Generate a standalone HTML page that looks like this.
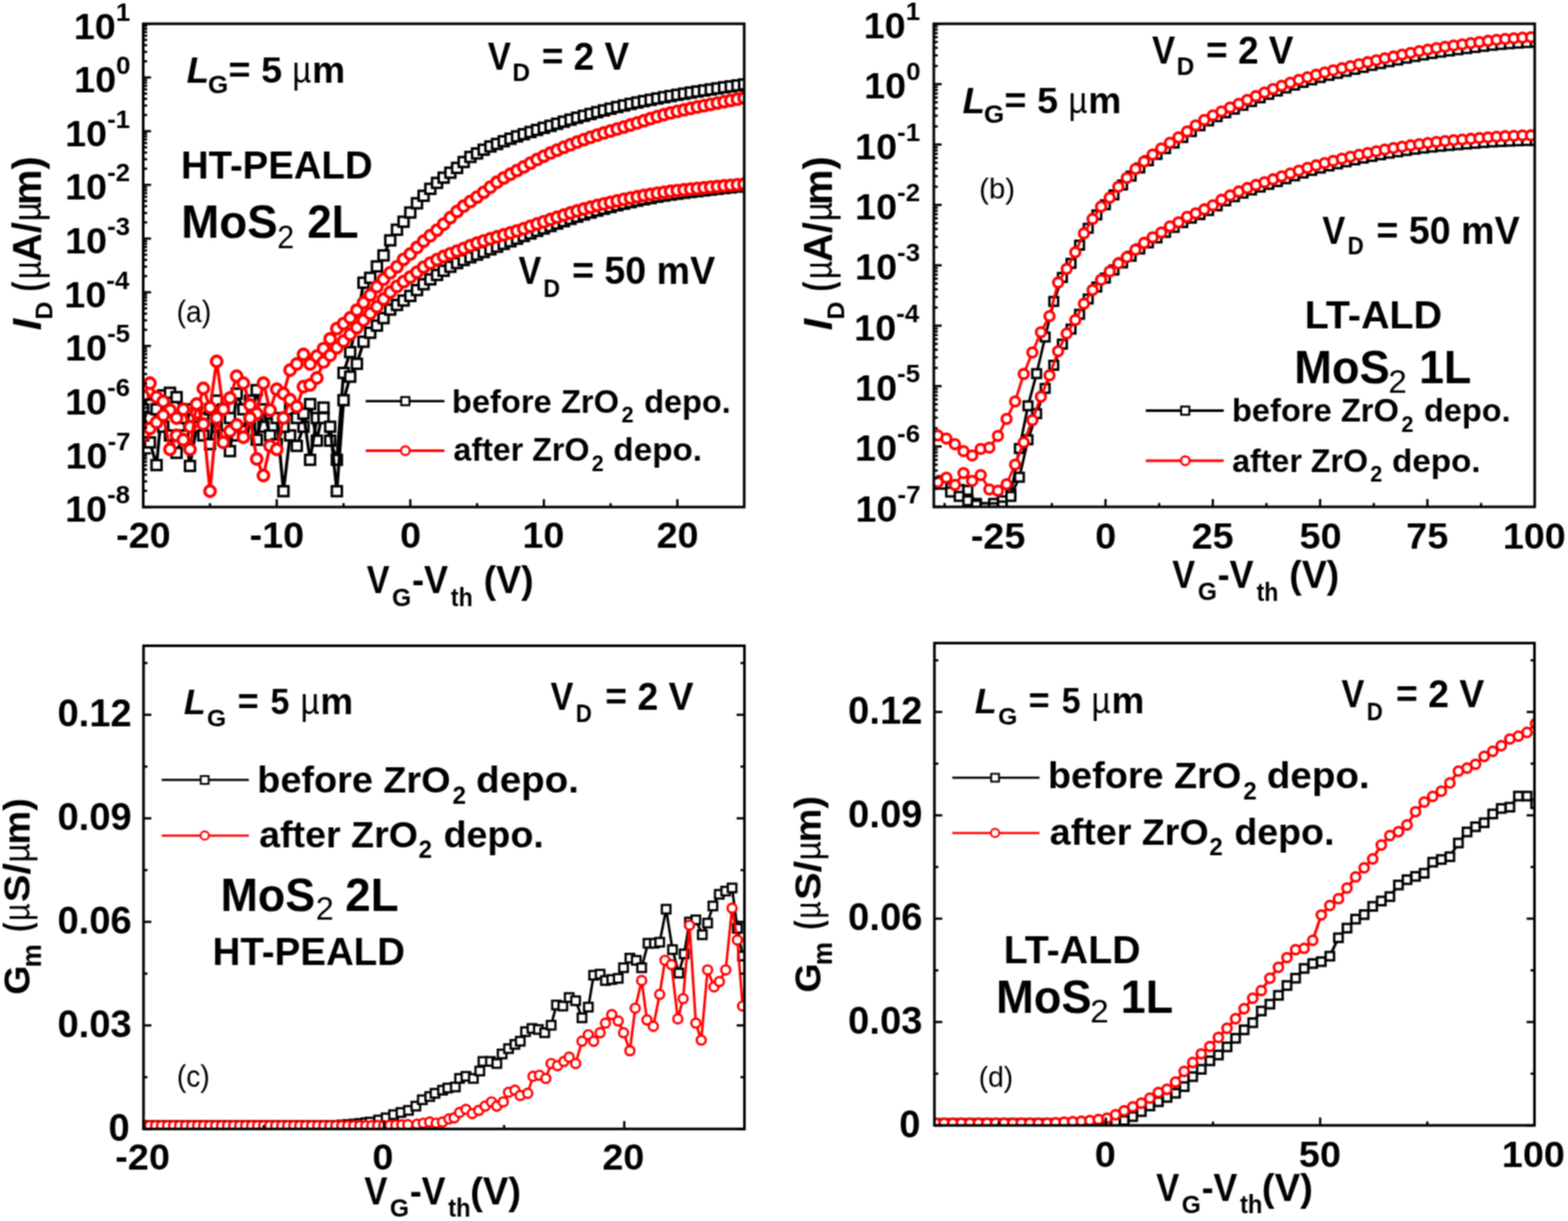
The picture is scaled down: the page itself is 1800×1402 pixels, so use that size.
<!DOCTYPE html><html><head><meta charset="utf-8"><title>Figure</title><style>html,body{margin:0;padding:0;background:#fff;}svg{display:block;}</style></head><body>
<svg width="1800" height="1402" viewBox="0 0 1800 1402" font-family='"Liberation Sans", Arial, sans-serif'>
<defs><filter id="bl" x="0" y="0" width="1800" height="1402" filterUnits="userSpaceOnUse" color-interpolation-filters="sRGB"><feConvolveMatrix order="3" kernelMatrix="1 2 1 2 4 2 1 2 1" divisor="16" edgeMode="duplicate"/></filter></defs>
<g filter="url(#bl)">
<rect width="1800" height="1402" fill="#fff"/>
<defs><clipPath id="ca"><rect x="164.40" y="27.30" width="689.90" height="554.90"/></clipPath><clipPath id="cb"><rect x="1072.00" y="27.30" width="689.80" height="554.70"/></clipPath><clipPath id="cc"><rect x="164.80" y="741.50" width="689.80" height="554.80"/></clipPath><clipPath id="cd"><rect x="1072.70" y="738.40" width="688.80" height="553.80"/></clipPath></defs>
<g clip-path="url(#ca)">
<path d="M164.4 470.0L172.1 508.0L179.7 534.0L187.4 454.0L195.1 451.0L202.7 456.0L210.4 480.0L218.1 535.0L225.7 490.0L233.4 480.0L241.1 470.0L248.7 490.0L256.4 500.0L264.0 518.0L271.7 452.0L279.4 470.0L287.0 485.0L294.7 448.0L302.4 490.0L310.0 475.0L317.7 480.0L325.4 564.0L333.0 500.0L340.7 512.0L348.4 490.0L356.0 464.0L363.7 506.0L371.4 468.0L379.0 506.0L386.7 528.0L394.4 428.2L402.0 404.3L409.7 369.7L417.3 324.6L425.0 319.0L432.7 305.9L440.3 293.3L448.0 276.0L455.7 263.8L463.3 254.6L471.0 244.0L478.7 233.4L486.3 224.8L494.0 216.8L501.7 210.0L509.3 204.0L517.0 198.3L524.7 192.8L532.3 186.0L540.0 180.2L547.6 176.2L555.3 171.9L563.0 168.2L570.6 165.3L578.3 162.2L586.0 159.3L593.6 156.6L601.3 154.1L609.0 151.6L616.6 149.2L624.3 146.8L632.0 144.5L639.6 142.1L647.3 139.7L655.0 137.4L662.6 135.2L670.3 133.0L678.0 130.9L685.6 128.8L693.3 126.8L700.9 124.8L708.6 122.9L716.3 121.1L723.9 119.3L731.6 117.7L739.3 116.1L746.9 114.6L754.6 113.1L762.3 111.6L769.9 110.3L777.6 108.9L785.3 107.6L792.9 106.3L800.6 105.1L808.3 103.9L815.9 102.7L823.6 101.5L831.3 100.3L838.9 99.2L846.6 98.1L854.2 97.0" fill="none" stroke="#000000" stroke-width="3.5" stroke-linejoin="round"/>
<g fill="#fff" stroke="#000000" stroke-width="2.9">
<rect x="158.7" y="464.3" width="11.4" height="11.4"/>
<rect x="166.4" y="502.3" width="11.4" height="11.4"/>
<rect x="174.0" y="528.3" width="11.4" height="11.4"/>
<rect x="181.7" y="448.3" width="11.4" height="11.4"/>
<rect x="189.4" y="445.3" width="11.4" height="11.4"/>
<rect x="197.0" y="450.3" width="11.4" height="11.4"/>
<rect x="204.7" y="474.3" width="11.4" height="11.4"/>
<rect x="212.4" y="529.3" width="11.4" height="11.4"/>
<rect x="220.0" y="484.3" width="11.4" height="11.4"/>
<rect x="227.7" y="474.3" width="11.4" height="11.4"/>
<rect x="235.4" y="464.3" width="11.4" height="11.4"/>
<rect x="243.0" y="484.3" width="11.4" height="11.4"/>
<rect x="250.7" y="494.3" width="11.4" height="11.4"/>
<rect x="258.3" y="512.3" width="11.4" height="11.4"/>
<rect x="266.0" y="446.3" width="11.4" height="11.4"/>
<rect x="273.7" y="464.3" width="11.4" height="11.4"/>
<rect x="281.3" y="479.3" width="11.4" height="11.4"/>
<rect x="289.0" y="442.3" width="11.4" height="11.4"/>
<rect x="296.7" y="484.3" width="11.4" height="11.4"/>
<rect x="304.3" y="469.3" width="11.4" height="11.4"/>
<rect x="312.0" y="474.3" width="11.4" height="11.4"/>
<rect x="319.7" y="558.3" width="11.4" height="11.4"/>
<rect x="327.3" y="494.3" width="11.4" height="11.4"/>
<rect x="335.0" y="506.3" width="11.4" height="11.4"/>
<rect x="342.7" y="484.3" width="11.4" height="11.4"/>
<rect x="350.3" y="458.3" width="11.4" height="11.4"/>
<rect x="358.0" y="500.3" width="11.4" height="11.4"/>
<rect x="365.7" y="462.3" width="11.4" height="11.4"/>
<rect x="373.3" y="500.3" width="11.4" height="11.4"/>
<rect x="381.0" y="522.3" width="11.4" height="11.4"/>
<rect x="388.7" y="422.5" width="11.4" height="11.4"/>
<rect x="396.3" y="398.6" width="11.4" height="11.4"/>
<rect x="404.0" y="364.0" width="11.4" height="11.4"/>
<rect x="411.6" y="318.9" width="11.4" height="11.4"/>
<rect x="419.3" y="313.3" width="11.4" height="11.4"/>
<rect x="427.0" y="300.2" width="11.4" height="11.4"/>
<rect x="434.6" y="287.6" width="11.4" height="11.4"/>
<rect x="442.3" y="270.3" width="11.4" height="11.4"/>
<rect x="450.0" y="258.1" width="11.4" height="11.4"/>
<rect x="457.6" y="248.9" width="11.4" height="11.4"/>
<rect x="465.3" y="238.3" width="11.4" height="11.4"/>
<rect x="473.0" y="227.7" width="11.4" height="11.4"/>
<rect x="480.6" y="219.1" width="11.4" height="11.4"/>
<rect x="488.3" y="211.1" width="11.4" height="11.4"/>
<rect x="496.0" y="204.3" width="11.4" height="11.4"/>
<rect x="503.6" y="198.3" width="11.4" height="11.4"/>
<rect x="511.3" y="192.6" width="11.4" height="11.4"/>
<rect x="519.0" y="187.1" width="11.4" height="11.4"/>
<rect x="526.6" y="180.3" width="11.4" height="11.4"/>
<rect x="534.3" y="174.5" width="11.4" height="11.4"/>
<rect x="541.9" y="170.5" width="11.4" height="11.4"/>
<rect x="549.6" y="166.2" width="11.4" height="11.4"/>
<rect x="557.3" y="162.5" width="11.4" height="11.4"/>
<rect x="564.9" y="159.6" width="11.4" height="11.4"/>
<rect x="572.6" y="156.5" width="11.4" height="11.4"/>
<rect x="580.3" y="153.6" width="11.4" height="11.4"/>
<rect x="587.9" y="150.9" width="11.4" height="11.4"/>
<rect x="595.6" y="148.4" width="11.4" height="11.4"/>
<rect x="603.3" y="145.9" width="11.4" height="11.4"/>
<rect x="610.9" y="143.5" width="11.4" height="11.4"/>
<rect x="618.6" y="141.1" width="11.4" height="11.4"/>
<rect x="626.3" y="138.8" width="11.4" height="11.4"/>
<rect x="633.9" y="136.4" width="11.4" height="11.4"/>
<rect x="641.6" y="134.0" width="11.4" height="11.4"/>
<rect x="649.3" y="131.7" width="11.4" height="11.4"/>
<rect x="656.9" y="129.5" width="11.4" height="11.4"/>
<rect x="664.6" y="127.3" width="11.4" height="11.4"/>
<rect x="672.3" y="125.2" width="11.4" height="11.4"/>
<rect x="679.9" y="123.1" width="11.4" height="11.4"/>
<rect x="687.6" y="121.1" width="11.4" height="11.4"/>
<rect x="695.2" y="119.1" width="11.4" height="11.4"/>
<rect x="702.9" y="117.2" width="11.4" height="11.4"/>
<rect x="710.6" y="115.4" width="11.4" height="11.4"/>
<rect x="718.2" y="113.6" width="11.4" height="11.4"/>
<rect x="725.9" y="112.0" width="11.4" height="11.4"/>
<rect x="733.6" y="110.4" width="11.4" height="11.4"/>
<rect x="741.2" y="108.9" width="11.4" height="11.4"/>
<rect x="748.9" y="107.4" width="11.4" height="11.4"/>
<rect x="756.6" y="105.9" width="11.4" height="11.4"/>
<rect x="764.2" y="104.6" width="11.4" height="11.4"/>
<rect x="771.9" y="103.2" width="11.4" height="11.4"/>
<rect x="779.6" y="101.9" width="11.4" height="11.4"/>
<rect x="787.2" y="100.6" width="11.4" height="11.4"/>
<rect x="794.9" y="99.4" width="11.4" height="11.4"/>
<rect x="802.6" y="98.2" width="11.4" height="11.4"/>
<rect x="810.2" y="97.0" width="11.4" height="11.4"/>
<rect x="817.9" y="95.8" width="11.4" height="11.4"/>
<rect x="825.6" y="94.6" width="11.4" height="11.4"/>
<rect x="833.2" y="93.5" width="11.4" height="11.4"/>
<rect x="840.9" y="92.4" width="11.4" height="11.4"/>
<rect x="848.5" y="91.3" width="11.4" height="11.4"/>
</g>
<path d="M164.4 500.0L172.1 480.0L179.7 470.0L187.4 490.0L195.1 500.0L202.7 520.0L210.4 500.0L218.1 470.0L225.7 470.0L233.4 500.0L241.1 510.0L248.7 460.0L256.4 470.0L264.0 480.0L271.7 500.0L279.4 495.0L287.0 460.0L294.7 505.0L302.4 470.0L310.0 500.0L317.7 510.0L325.4 490.0L333.0 470.0L340.7 480.0L348.4 475.0L356.0 528.0L363.7 480.0L371.4 480.0L379.0 490.0L386.7 564.0L394.4 459.5L402.0 432.5L409.7 417.7L417.3 392.4L425.0 382.1L432.7 373.9L440.3 365.3L448.0 355.5L455.7 350.2L463.3 345.1L471.0 339.8L478.7 333.1L486.3 326.4L494.0 320.8L501.7 315.7L509.3 310.9L517.0 306.3L524.7 302.1L532.3 298.6L540.0 295.4L547.6 292.4L555.3 289.4L563.0 286.3L570.6 283.3L578.3 280.1L586.0 277.1L593.6 274.1L601.3 271.0L609.0 268.1L616.6 265.1L624.3 262.3L632.0 259.5L639.6 256.7L647.3 254.0L655.0 251.3L662.6 248.8L670.3 246.3L678.0 244.1L685.6 241.8L693.3 239.7L700.9 237.7L708.6 235.7L716.3 233.9L723.9 232.1L731.6 230.4L739.3 228.8L746.9 227.4L754.6 225.9L762.3 224.6L769.9 223.4L777.6 222.4L785.3 221.3L792.9 220.4L800.6 219.5L808.3 218.6L815.9 217.7L823.6 216.8L831.3 215.9L838.9 215.1L846.6 214.3L854.2 213.5" fill="none" stroke="#000000" stroke-width="3.5" stroke-linejoin="round"/>
<g fill="#fff" stroke="#000000" stroke-width="2.9">
<rect x="158.7" y="494.3" width="11.4" height="11.4"/>
<rect x="166.4" y="474.3" width="11.4" height="11.4"/>
<rect x="174.0" y="464.3" width="11.4" height="11.4"/>
<rect x="181.7" y="484.3" width="11.4" height="11.4"/>
<rect x="189.4" y="494.3" width="11.4" height="11.4"/>
<rect x="197.0" y="514.3" width="11.4" height="11.4"/>
<rect x="204.7" y="494.3" width="11.4" height="11.4"/>
<rect x="212.4" y="464.3" width="11.4" height="11.4"/>
<rect x="220.0" y="464.3" width="11.4" height="11.4"/>
<rect x="227.7" y="494.3" width="11.4" height="11.4"/>
<rect x="235.4" y="504.3" width="11.4" height="11.4"/>
<rect x="243.0" y="454.3" width="11.4" height="11.4"/>
<rect x="250.7" y="464.3" width="11.4" height="11.4"/>
<rect x="258.3" y="474.3" width="11.4" height="11.4"/>
<rect x="266.0" y="494.3" width="11.4" height="11.4"/>
<rect x="273.7" y="489.3" width="11.4" height="11.4"/>
<rect x="281.3" y="454.3" width="11.4" height="11.4"/>
<rect x="289.0" y="499.3" width="11.4" height="11.4"/>
<rect x="296.7" y="464.3" width="11.4" height="11.4"/>
<rect x="304.3" y="494.3" width="11.4" height="11.4"/>
<rect x="312.0" y="504.3" width="11.4" height="11.4"/>
<rect x="319.7" y="484.3" width="11.4" height="11.4"/>
<rect x="327.3" y="464.3" width="11.4" height="11.4"/>
<rect x="335.0" y="474.3" width="11.4" height="11.4"/>
<rect x="342.7" y="469.3" width="11.4" height="11.4"/>
<rect x="350.3" y="522.3" width="11.4" height="11.4"/>
<rect x="358.0" y="474.3" width="11.4" height="11.4"/>
<rect x="365.7" y="474.3" width="11.4" height="11.4"/>
<rect x="373.3" y="484.3" width="11.4" height="11.4"/>
<rect x="381.0" y="558.3" width="11.4" height="11.4"/>
<rect x="388.7" y="453.8" width="11.4" height="11.4"/>
<rect x="396.3" y="426.8" width="11.4" height="11.4"/>
<rect x="404.0" y="412.0" width="11.4" height="11.4"/>
<rect x="411.6" y="386.7" width="11.4" height="11.4"/>
<rect x="419.3" y="376.4" width="11.4" height="11.4"/>
<rect x="427.0" y="368.2" width="11.4" height="11.4"/>
<rect x="434.6" y="359.6" width="11.4" height="11.4"/>
<rect x="442.3" y="349.8" width="11.4" height="11.4"/>
<rect x="450.0" y="344.5" width="11.4" height="11.4"/>
<rect x="457.6" y="339.4" width="11.4" height="11.4"/>
<rect x="465.3" y="334.1" width="11.4" height="11.4"/>
<rect x="473.0" y="327.4" width="11.4" height="11.4"/>
<rect x="480.6" y="320.7" width="11.4" height="11.4"/>
<rect x="488.3" y="315.1" width="11.4" height="11.4"/>
<rect x="496.0" y="310.0" width="11.4" height="11.4"/>
<rect x="503.6" y="305.2" width="11.4" height="11.4"/>
<rect x="511.3" y="300.6" width="11.4" height="11.4"/>
<rect x="519.0" y="296.4" width="11.4" height="11.4"/>
<rect x="526.6" y="292.9" width="11.4" height="11.4"/>
<rect x="534.3" y="289.7" width="11.4" height="11.4"/>
<rect x="541.9" y="286.7" width="11.4" height="11.4"/>
<rect x="549.6" y="283.7" width="11.4" height="11.4"/>
<rect x="557.3" y="280.6" width="11.4" height="11.4"/>
<rect x="564.9" y="277.6" width="11.4" height="11.4"/>
<rect x="572.6" y="274.4" width="11.4" height="11.4"/>
<rect x="580.3" y="271.4" width="11.4" height="11.4"/>
<rect x="587.9" y="268.4" width="11.4" height="11.4"/>
<rect x="595.6" y="265.3" width="11.4" height="11.4"/>
<rect x="603.3" y="262.4" width="11.4" height="11.4"/>
<rect x="610.9" y="259.4" width="11.4" height="11.4"/>
<rect x="618.6" y="256.6" width="11.4" height="11.4"/>
<rect x="626.3" y="253.8" width="11.4" height="11.4"/>
<rect x="633.9" y="251.0" width="11.4" height="11.4"/>
<rect x="641.6" y="248.3" width="11.4" height="11.4"/>
<rect x="649.3" y="245.6" width="11.4" height="11.4"/>
<rect x="656.9" y="243.1" width="11.4" height="11.4"/>
<rect x="664.6" y="240.6" width="11.4" height="11.4"/>
<rect x="672.3" y="238.4" width="11.4" height="11.4"/>
<rect x="679.9" y="236.1" width="11.4" height="11.4"/>
<rect x="687.6" y="234.0" width="11.4" height="11.4"/>
<rect x="695.2" y="232.0" width="11.4" height="11.4"/>
<rect x="702.9" y="230.0" width="11.4" height="11.4"/>
<rect x="710.6" y="228.2" width="11.4" height="11.4"/>
<rect x="718.2" y="226.4" width="11.4" height="11.4"/>
<rect x="725.9" y="224.7" width="11.4" height="11.4"/>
<rect x="733.6" y="223.1" width="11.4" height="11.4"/>
<rect x="741.2" y="221.7" width="11.4" height="11.4"/>
<rect x="748.9" y="220.2" width="11.4" height="11.4"/>
<rect x="756.6" y="218.9" width="11.4" height="11.4"/>
<rect x="764.2" y="217.7" width="11.4" height="11.4"/>
<rect x="771.9" y="216.7" width="11.4" height="11.4"/>
<rect x="779.6" y="215.6" width="11.4" height="11.4"/>
<rect x="787.2" y="214.7" width="11.4" height="11.4"/>
<rect x="794.9" y="213.8" width="11.4" height="11.4"/>
<rect x="802.6" y="212.9" width="11.4" height="11.4"/>
<rect x="810.2" y="212.0" width="11.4" height="11.4"/>
<rect x="817.9" y="211.1" width="11.4" height="11.4"/>
<rect x="825.6" y="210.2" width="11.4" height="11.4"/>
<rect x="833.2" y="209.4" width="11.4" height="11.4"/>
<rect x="840.9" y="208.6" width="11.4" height="11.4"/>
<rect x="848.5" y="207.8" width="11.4" height="11.4"/>
</g>
<path d="M164.4 455.0L172.1 440.0L179.7 456.0L187.4 461.0L195.1 471.0L202.7 480.0L210.4 470.0L218.1 490.0L225.7 474.0L233.4 446.0L241.1 468.0L248.7 415.0L256.4 470.0L264.0 457.0L271.7 432.0L279.4 440.0L287.0 465.0L294.7 475.0L302.4 440.0L310.0 471.0L317.7 447.0L325.4 452.0L333.0 425.0L340.7 418.0L348.4 407.0L356.0 418.0L363.7 409.0L371.4 400.4L379.0 389.2L386.7 377.4L394.4 371.6L402.0 365.0L409.7 356.2L417.3 347.5L425.0 338.8L432.7 329.2L440.3 320.6L448.0 313.1L455.7 306.3L463.3 297.8L471.0 291.7L478.7 284.2L486.3 277.0L494.0 270.6L501.7 264.3L509.3 257.4L517.0 250.0L524.7 242.8L532.3 236.7L540.0 231.4L547.6 226.3L555.3 220.8L563.0 214.9L570.6 209.2L578.3 204.3L586.0 200.0L593.6 195.8L601.3 191.6L609.0 187.3L616.6 183.2L624.3 179.3L632.0 175.7L639.6 172.4L647.3 169.1L655.0 166.1L662.6 163.1L670.3 160.3L678.0 157.6L685.6 155.1L693.3 152.7L700.9 150.4L708.6 148.1L716.3 145.8L723.9 143.5L731.6 141.1L739.3 138.6L746.9 136.2L754.6 133.9L762.3 131.7L769.9 129.7L777.6 127.9L785.3 126.2L792.9 124.5L800.6 122.9L808.3 121.4L815.9 119.8L823.6 118.3L831.3 116.8L838.9 115.3L846.6 113.9L854.2 112.5" fill="none" stroke="#ff0000" stroke-width="3.5" stroke-linejoin="round"/>
<g fill="#fff" stroke="#ff0000" stroke-width="3.6">
<circle cx="164.4" cy="455.0" r="6.1"/>
<circle cx="172.1" cy="440.0" r="6.1"/>
<circle cx="179.7" cy="456.0" r="6.1"/>
<circle cx="187.4" cy="461.0" r="6.1"/>
<circle cx="195.1" cy="471.0" r="6.1"/>
<circle cx="202.7" cy="480.0" r="6.1"/>
<circle cx="210.4" cy="470.0" r="6.1"/>
<circle cx="218.1" cy="490.0" r="6.1"/>
<circle cx="225.7" cy="474.0" r="6.1"/>
<circle cx="233.4" cy="446.0" r="6.1"/>
<circle cx="241.1" cy="468.0" r="6.1"/>
<circle cx="248.7" cy="415.0" r="6.1"/>
<circle cx="256.4" cy="470.0" r="6.1"/>
<circle cx="264.0" cy="457.0" r="6.1"/>
<circle cx="271.7" cy="432.0" r="6.1"/>
<circle cx="279.4" cy="440.0" r="6.1"/>
<circle cx="287.0" cy="465.0" r="6.1"/>
<circle cx="294.7" cy="475.0" r="6.1"/>
<circle cx="302.4" cy="440.0" r="6.1"/>
<circle cx="310.0" cy="471.0" r="6.1"/>
<circle cx="317.7" cy="447.0" r="6.1"/>
<circle cx="325.4" cy="452.0" r="6.1"/>
<circle cx="333.0" cy="425.0" r="6.1"/>
<circle cx="340.7" cy="418.0" r="6.1"/>
<circle cx="348.4" cy="407.0" r="6.1"/>
<circle cx="356.0" cy="418.0" r="6.1"/>
<circle cx="363.7" cy="409.0" r="6.1"/>
<circle cx="371.4" cy="400.4" r="6.1"/>
<circle cx="379.0" cy="389.2" r="6.1"/>
<circle cx="386.7" cy="377.4" r="6.1"/>
<circle cx="394.4" cy="371.6" r="6.1"/>
<circle cx="402.0" cy="365.0" r="6.1"/>
<circle cx="409.7" cy="356.2" r="6.1"/>
<circle cx="417.3" cy="347.5" r="6.1"/>
<circle cx="425.0" cy="338.8" r="6.1"/>
<circle cx="432.7" cy="329.2" r="6.1"/>
<circle cx="440.3" cy="320.6" r="6.1"/>
<circle cx="448.0" cy="313.1" r="6.1"/>
<circle cx="455.7" cy="306.3" r="6.1"/>
<circle cx="463.3" cy="297.8" r="6.1"/>
<circle cx="471.0" cy="291.7" r="6.1"/>
<circle cx="478.7" cy="284.2" r="6.1"/>
<circle cx="486.3" cy="277.0" r="6.1"/>
<circle cx="494.0" cy="270.6" r="6.1"/>
<circle cx="501.7" cy="264.3" r="6.1"/>
<circle cx="509.3" cy="257.4" r="6.1"/>
<circle cx="517.0" cy="250.0" r="6.1"/>
<circle cx="524.7" cy="242.8" r="6.1"/>
<circle cx="532.3" cy="236.7" r="6.1"/>
<circle cx="540.0" cy="231.4" r="6.1"/>
<circle cx="547.6" cy="226.3" r="6.1"/>
<circle cx="555.3" cy="220.8" r="6.1"/>
<circle cx="563.0" cy="214.9" r="6.1"/>
<circle cx="570.6" cy="209.2" r="6.1"/>
<circle cx="578.3" cy="204.3" r="6.1"/>
<circle cx="586.0" cy="200.0" r="6.1"/>
<circle cx="593.6" cy="195.8" r="6.1"/>
<circle cx="601.3" cy="191.6" r="6.1"/>
<circle cx="609.0" cy="187.3" r="6.1"/>
<circle cx="616.6" cy="183.2" r="6.1"/>
<circle cx="624.3" cy="179.3" r="6.1"/>
<circle cx="632.0" cy="175.7" r="6.1"/>
<circle cx="639.6" cy="172.4" r="6.1"/>
<circle cx="647.3" cy="169.1" r="6.1"/>
<circle cx="655.0" cy="166.1" r="6.1"/>
<circle cx="662.6" cy="163.1" r="6.1"/>
<circle cx="670.3" cy="160.3" r="6.1"/>
<circle cx="678.0" cy="157.6" r="6.1"/>
<circle cx="685.6" cy="155.1" r="6.1"/>
<circle cx="693.3" cy="152.7" r="6.1"/>
<circle cx="700.9" cy="150.4" r="6.1"/>
<circle cx="708.6" cy="148.1" r="6.1"/>
<circle cx="716.3" cy="145.8" r="6.1"/>
<circle cx="723.9" cy="143.5" r="6.1"/>
<circle cx="731.6" cy="141.1" r="6.1"/>
<circle cx="739.3" cy="138.6" r="6.1"/>
<circle cx="746.9" cy="136.2" r="6.1"/>
<circle cx="754.6" cy="133.9" r="6.1"/>
<circle cx="762.3" cy="131.7" r="6.1"/>
<circle cx="769.9" cy="129.7" r="6.1"/>
<circle cx="777.6" cy="127.9" r="6.1"/>
<circle cx="785.3" cy="126.2" r="6.1"/>
<circle cx="792.9" cy="124.5" r="6.1"/>
<circle cx="800.6" cy="122.9" r="6.1"/>
<circle cx="808.3" cy="121.4" r="6.1"/>
<circle cx="815.9" cy="119.8" r="6.1"/>
<circle cx="823.6" cy="118.3" r="6.1"/>
<circle cx="831.3" cy="116.8" r="6.1"/>
<circle cx="838.9" cy="115.3" r="6.1"/>
<circle cx="846.6" cy="113.9" r="6.1"/>
<circle cx="854.2" cy="112.5" r="6.1"/>
</g>
<path d="M164.4 500.0L172.1 492.0L179.7 485.0L187.4 477.0L195.1 516.0L202.7 500.0L210.4 505.0L218.1 516.0L225.7 464.0L233.4 487.0L241.1 564.0L248.7 480.0L256.4 508.0L264.0 495.0L271.7 488.0L279.4 502.0L287.0 480.0L294.7 527.0L302.4 546.0L310.0 512.0L317.7 516.0L325.4 480.0L333.0 459.0L340.7 467.0L348.4 444.0L356.0 442.0L363.7 434.0L371.4 415.7L379.0 408.0L386.7 399.3L394.4 391.6L402.0 384.0L409.7 376.3L417.3 367.7L425.0 360.0L432.7 352.3L440.3 343.5L448.0 335.5L455.7 328.9L463.3 323.4L471.0 318.2L478.7 312.6L486.3 306.8L494.0 302.1L501.7 298.1L509.3 294.5L517.0 291.3L524.7 288.3L532.3 285.3L540.0 282.1L547.6 279.2L555.3 276.6L563.0 274.2L570.6 272.0L578.3 269.7L586.0 267.4L593.6 265.1L601.3 262.6L609.0 259.9L616.6 257.1L624.3 254.6L632.0 252.0L639.6 249.5L647.3 247.0L655.0 244.5L662.6 242.2L670.3 240.0L678.0 238.0L685.6 236.0L693.3 234.1L700.9 232.3L708.6 230.6L716.3 228.9L723.9 227.4L731.6 226.0L739.3 224.5L746.9 223.2L754.6 221.9L762.3 220.8L769.9 219.7L777.6 218.8L785.3 218.0L792.9 217.2L800.6 216.4L808.3 215.7L815.9 214.9L823.6 214.2L831.3 213.5L838.9 212.8L846.6 212.1L854.2 211.5" fill="none" stroke="#ff0000" stroke-width="3.5" stroke-linejoin="round"/>
<g fill="#fff" stroke="#ff0000" stroke-width="3.6">
<circle cx="164.4" cy="500.0" r="6.1"/>
<circle cx="172.1" cy="492.0" r="6.1"/>
<circle cx="179.7" cy="485.0" r="6.1"/>
<circle cx="187.4" cy="477.0" r="6.1"/>
<circle cx="195.1" cy="516.0" r="6.1"/>
<circle cx="202.7" cy="500.0" r="6.1"/>
<circle cx="210.4" cy="505.0" r="6.1"/>
<circle cx="218.1" cy="516.0" r="6.1"/>
<circle cx="225.7" cy="464.0" r="6.1"/>
<circle cx="233.4" cy="487.0" r="6.1"/>
<circle cx="241.1" cy="564.0" r="6.1"/>
<circle cx="248.7" cy="480.0" r="6.1"/>
<circle cx="256.4" cy="508.0" r="6.1"/>
<circle cx="264.0" cy="495.0" r="6.1"/>
<circle cx="271.7" cy="488.0" r="6.1"/>
<circle cx="279.4" cy="502.0" r="6.1"/>
<circle cx="287.0" cy="480.0" r="6.1"/>
<circle cx="294.7" cy="527.0" r="6.1"/>
<circle cx="302.4" cy="546.0" r="6.1"/>
<circle cx="310.0" cy="512.0" r="6.1"/>
<circle cx="317.7" cy="516.0" r="6.1"/>
<circle cx="325.4" cy="480.0" r="6.1"/>
<circle cx="333.0" cy="459.0" r="6.1"/>
<circle cx="340.7" cy="467.0" r="6.1"/>
<circle cx="348.4" cy="444.0" r="6.1"/>
<circle cx="356.0" cy="442.0" r="6.1"/>
<circle cx="363.7" cy="434.0" r="6.1"/>
<circle cx="371.4" cy="415.7" r="6.1"/>
<circle cx="379.0" cy="408.0" r="6.1"/>
<circle cx="386.7" cy="399.3" r="6.1"/>
<circle cx="394.4" cy="391.6" r="6.1"/>
<circle cx="402.0" cy="384.0" r="6.1"/>
<circle cx="409.7" cy="376.3" r="6.1"/>
<circle cx="417.3" cy="367.7" r="6.1"/>
<circle cx="425.0" cy="360.0" r="6.1"/>
<circle cx="432.7" cy="352.3" r="6.1"/>
<circle cx="440.3" cy="343.5" r="6.1"/>
<circle cx="448.0" cy="335.5" r="6.1"/>
<circle cx="455.7" cy="328.9" r="6.1"/>
<circle cx="463.3" cy="323.4" r="6.1"/>
<circle cx="471.0" cy="318.2" r="6.1"/>
<circle cx="478.7" cy="312.6" r="6.1"/>
<circle cx="486.3" cy="306.8" r="6.1"/>
<circle cx="494.0" cy="302.1" r="6.1"/>
<circle cx="501.7" cy="298.1" r="6.1"/>
<circle cx="509.3" cy="294.5" r="6.1"/>
<circle cx="517.0" cy="291.3" r="6.1"/>
<circle cx="524.7" cy="288.3" r="6.1"/>
<circle cx="532.3" cy="285.3" r="6.1"/>
<circle cx="540.0" cy="282.1" r="6.1"/>
<circle cx="547.6" cy="279.2" r="6.1"/>
<circle cx="555.3" cy="276.6" r="6.1"/>
<circle cx="563.0" cy="274.2" r="6.1"/>
<circle cx="570.6" cy="272.0" r="6.1"/>
<circle cx="578.3" cy="269.7" r="6.1"/>
<circle cx="586.0" cy="267.4" r="6.1"/>
<circle cx="593.6" cy="265.1" r="6.1"/>
<circle cx="601.3" cy="262.6" r="6.1"/>
<circle cx="609.0" cy="259.9" r="6.1"/>
<circle cx="616.6" cy="257.1" r="6.1"/>
<circle cx="624.3" cy="254.6" r="6.1"/>
<circle cx="632.0" cy="252.0" r="6.1"/>
<circle cx="639.6" cy="249.5" r="6.1"/>
<circle cx="647.3" cy="247.0" r="6.1"/>
<circle cx="655.0" cy="244.5" r="6.1"/>
<circle cx="662.6" cy="242.2" r="6.1"/>
<circle cx="670.3" cy="240.0" r="6.1"/>
<circle cx="678.0" cy="238.0" r="6.1"/>
<circle cx="685.6" cy="236.0" r="6.1"/>
<circle cx="693.3" cy="234.1" r="6.1"/>
<circle cx="700.9" cy="232.3" r="6.1"/>
<circle cx="708.6" cy="230.6" r="6.1"/>
<circle cx="716.3" cy="228.9" r="6.1"/>
<circle cx="723.9" cy="227.4" r="6.1"/>
<circle cx="731.6" cy="226.0" r="6.1"/>
<circle cx="739.3" cy="224.5" r="6.1"/>
<circle cx="746.9" cy="223.2" r="6.1"/>
<circle cx="754.6" cy="221.9" r="6.1"/>
<circle cx="762.3" cy="220.8" r="6.1"/>
<circle cx="769.9" cy="219.7" r="6.1"/>
<circle cx="777.6" cy="218.8" r="6.1"/>
<circle cx="785.3" cy="218.0" r="6.1"/>
<circle cx="792.9" cy="217.2" r="6.1"/>
<circle cx="800.6" cy="216.4" r="6.1"/>
<circle cx="808.3" cy="215.7" r="6.1"/>
<circle cx="815.9" cy="214.9" r="6.1"/>
<circle cx="823.6" cy="214.2" r="6.1"/>
<circle cx="831.3" cy="213.5" r="6.1"/>
<circle cx="838.9" cy="212.8" r="6.1"/>
<circle cx="846.6" cy="212.1" r="6.1"/>
<circle cx="854.2" cy="211.5" r="6.1"/>
</g>
</g>
<line x1="419.8" y1="460.6" x2="510.2" y2="460.6" stroke="#000000" stroke-width="2.8"/>
<rect x="460.6" y="455.9" width="9.4" height="9.4" fill="#fff" stroke="#000000" stroke-width="2.3"/>
<line x1="419.8" y1="517.5" x2="510.2" y2="517.5" stroke="#ff0000" stroke-width="2.8"/>
<circle cx="465.3" cy="517.5" r="5.0" fill="#fff" stroke="#ff0000" stroke-width="2.4"/>
<g clip-path="url(#cb)">
<path d="M1081.4 552.0L1091.3 560.0L1101.1 562.0L1111.0 563.0L1120.9 578.0L1130.8 583.0L1140.6 578.0L1150.5 575.0L1160.4 567.0L1170.2 515.0L1180.1 466.0L1190.0 429.0L1199.8 387.0L1209.7 346.1L1219.6 318.6L1229.5 302.4L1239.3 281.5L1249.2 262.1L1259.1 246.8L1268.9 235.1L1278.8 223.8L1288.7 212.4L1298.5 202.2L1308.4 192.9L1318.3 184.6L1328.2 177.3L1338.0 170.7L1347.9 164.3L1357.8 157.9L1367.6 151.1L1377.5 144.4L1387.4 138.8L1397.2 134.0L1407.1 129.5L1417.0 125.3L1426.9 120.9L1436.7 116.6L1446.6 112.3L1456.5 108.3L1466.3 104.5L1476.2 101.0L1486.1 97.7L1495.9 94.6L1505.8 91.7L1515.7 89.0L1525.6 86.5L1535.4 84.2L1545.3 81.9L1555.2 79.6L1565.0 77.4L1574.9 75.1L1584.8 73.0L1594.6 70.9L1604.5 68.9L1614.4 66.8L1624.2 64.9L1634.1 63.1L1644.0 61.4L1653.9 59.9L1663.7 58.5L1673.6 57.1L1683.5 55.8L1693.3 54.5L1703.2 53.2L1713.1 52.0L1723.0 51.0L1732.8 50.2L1742.7 49.5L1752.6 48.9L1762.4 48.5L1772.3 48.2" fill="none" stroke="#000000" stroke-width="3.0" stroke-linejoin="round"/>
<g fill="#fff" stroke="#000000" stroke-width="2.8">
<rect x="1076.4" y="547.0" width="10.0" height="10.0"/>
<rect x="1086.3" y="555.0" width="10.0" height="10.0"/>
<rect x="1096.1" y="557.0" width="10.0" height="10.0"/>
<rect x="1106.0" y="558.0" width="10.0" height="10.0"/>
<rect x="1115.9" y="573.0" width="10.0" height="10.0"/>
<rect x="1125.8" y="578.0" width="10.0" height="10.0"/>
<rect x="1135.6" y="573.0" width="10.0" height="10.0"/>
<rect x="1145.5" y="570.0" width="10.0" height="10.0"/>
<rect x="1155.4" y="562.0" width="10.0" height="10.0"/>
<rect x="1165.2" y="510.0" width="10.0" height="10.0"/>
<rect x="1175.1" y="461.0" width="10.0" height="10.0"/>
<rect x="1185.0" y="424.0" width="10.0" height="10.0"/>
<rect x="1194.8" y="382.0" width="10.0" height="10.0"/>
<rect x="1204.7" y="341.1" width="10.0" height="10.0"/>
<rect x="1214.6" y="313.6" width="10.0" height="10.0"/>
<rect x="1224.5" y="297.4" width="10.0" height="10.0"/>
<rect x="1234.3" y="276.5" width="10.0" height="10.0"/>
<rect x="1244.2" y="257.1" width="10.0" height="10.0"/>
<rect x="1254.1" y="241.8" width="10.0" height="10.0"/>
<rect x="1263.9" y="230.1" width="10.0" height="10.0"/>
<rect x="1273.8" y="218.8" width="10.0" height="10.0"/>
<rect x="1283.7" y="207.4" width="10.0" height="10.0"/>
<rect x="1293.5" y="197.2" width="10.0" height="10.0"/>
<rect x="1303.4" y="187.9" width="10.0" height="10.0"/>
<rect x="1313.3" y="179.6" width="10.0" height="10.0"/>
<rect x="1323.2" y="172.3" width="10.0" height="10.0"/>
<rect x="1333.0" y="165.7" width="10.0" height="10.0"/>
<rect x="1342.9" y="159.3" width="10.0" height="10.0"/>
<rect x="1352.8" y="152.9" width="10.0" height="10.0"/>
<rect x="1362.6" y="146.1" width="10.0" height="10.0"/>
<rect x="1372.5" y="139.4" width="10.0" height="10.0"/>
<rect x="1382.4" y="133.8" width="10.0" height="10.0"/>
<rect x="1392.2" y="129.0" width="10.0" height="10.0"/>
<rect x="1402.1" y="124.5" width="10.0" height="10.0"/>
<rect x="1412.0" y="120.3" width="10.0" height="10.0"/>
<rect x="1421.9" y="115.9" width="10.0" height="10.0"/>
<rect x="1431.7" y="111.6" width="10.0" height="10.0"/>
<rect x="1441.6" y="107.3" width="10.0" height="10.0"/>
<rect x="1451.5" y="103.3" width="10.0" height="10.0"/>
<rect x="1461.3" y="99.5" width="10.0" height="10.0"/>
<rect x="1471.2" y="96.0" width="10.0" height="10.0"/>
<rect x="1481.1" y="92.7" width="10.0" height="10.0"/>
<rect x="1490.9" y="89.6" width="10.0" height="10.0"/>
<rect x="1500.8" y="86.7" width="10.0" height="10.0"/>
<rect x="1510.7" y="84.0" width="10.0" height="10.0"/>
<rect x="1520.6" y="81.5" width="10.0" height="10.0"/>
<rect x="1530.4" y="79.2" width="10.0" height="10.0"/>
<rect x="1540.3" y="76.9" width="10.0" height="10.0"/>
<rect x="1550.2" y="74.6" width="10.0" height="10.0"/>
<rect x="1560.0" y="72.4" width="10.0" height="10.0"/>
<rect x="1569.9" y="70.1" width="10.0" height="10.0"/>
<rect x="1579.8" y="68.0" width="10.0" height="10.0"/>
<rect x="1589.6" y="65.9" width="10.0" height="10.0"/>
<rect x="1599.5" y="63.9" width="10.0" height="10.0"/>
<rect x="1609.4" y="61.8" width="10.0" height="10.0"/>
<rect x="1619.2" y="59.9" width="10.0" height="10.0"/>
<rect x="1629.1" y="58.1" width="10.0" height="10.0"/>
<rect x="1639.0" y="56.4" width="10.0" height="10.0"/>
<rect x="1648.9" y="54.9" width="10.0" height="10.0"/>
<rect x="1658.7" y="53.5" width="10.0" height="10.0"/>
<rect x="1668.6" y="52.1" width="10.0" height="10.0"/>
<rect x="1678.5" y="50.8" width="10.0" height="10.0"/>
<rect x="1688.3" y="49.5" width="10.0" height="10.0"/>
<rect x="1698.2" y="48.2" width="10.0" height="10.0"/>
<rect x="1708.1" y="47.0" width="10.0" height="10.0"/>
<rect x="1718.0" y="46.0" width="10.0" height="10.0"/>
<rect x="1727.8" y="45.2" width="10.0" height="10.0"/>
<rect x="1737.7" y="44.5" width="10.0" height="10.0"/>
<rect x="1747.6" y="43.9" width="10.0" height="10.0"/>
<rect x="1757.4" y="43.5" width="10.0" height="10.0"/>
<rect x="1767.3" y="43.2" width="10.0" height="10.0"/>
</g>
<path d="M1081.4 556.0L1091.3 565.0L1101.1 570.0L1111.0 575.0L1120.9 580.0L1130.8 583.0L1140.6 583.0L1150.5 581.0L1160.4 570.0L1170.2 548.0L1180.1 505.0L1190.0 475.0L1199.8 446.0L1209.7 419.4L1219.6 395.1L1229.5 377.9L1239.3 360.9L1249.2 343.3L1259.1 329.6L1268.9 319.3L1278.8 310.0L1288.7 301.9L1298.5 294.2L1308.4 285.9L1318.3 278.9L1328.2 273.2L1338.0 266.9L1347.9 261.1L1357.8 255.6L1367.6 250.5L1377.5 246.4L1387.4 241.8L1397.2 236.3L1407.1 230.6L1417.0 225.9L1426.9 221.8L1436.7 218.1L1446.6 214.8L1456.5 211.7L1466.3 208.5L1476.2 205.2L1486.1 201.9L1495.9 198.7L1505.8 195.7L1515.7 193.0L1525.6 190.5L1535.4 188.1L1545.3 185.8L1555.2 183.6L1565.0 181.5L1574.9 179.6L1584.8 177.7L1594.6 175.9L1604.5 174.3L1614.4 172.8L1624.2 171.3L1634.1 170.0L1644.0 168.9L1653.9 167.9L1663.7 167.0L1673.6 166.1L1683.5 165.3L1693.3 164.5L1703.2 163.7L1713.1 163.0L1723.0 162.5L1732.8 162.1L1742.7 161.7L1752.6 161.4L1762.4 161.3L1772.3 161.2" fill="none" stroke="#000000" stroke-width="3.0" stroke-linejoin="round"/>
<g fill="#fff" stroke="#000000" stroke-width="2.8">
<rect x="1076.4" y="551.0" width="10.0" height="10.0"/>
<rect x="1086.3" y="560.0" width="10.0" height="10.0"/>
<rect x="1096.1" y="565.0" width="10.0" height="10.0"/>
<rect x="1106.0" y="570.0" width="10.0" height="10.0"/>
<rect x="1115.9" y="575.0" width="10.0" height="10.0"/>
<rect x="1125.8" y="578.0" width="10.0" height="10.0"/>
<rect x="1135.6" y="578.0" width="10.0" height="10.0"/>
<rect x="1145.5" y="576.0" width="10.0" height="10.0"/>
<rect x="1155.4" y="565.0" width="10.0" height="10.0"/>
<rect x="1165.2" y="543.0" width="10.0" height="10.0"/>
<rect x="1175.1" y="500.0" width="10.0" height="10.0"/>
<rect x="1185.0" y="470.0" width="10.0" height="10.0"/>
<rect x="1194.8" y="441.0" width="10.0" height="10.0"/>
<rect x="1204.7" y="414.4" width="10.0" height="10.0"/>
<rect x="1214.6" y="390.1" width="10.0" height="10.0"/>
<rect x="1224.5" y="372.9" width="10.0" height="10.0"/>
<rect x="1234.3" y="355.9" width="10.0" height="10.0"/>
<rect x="1244.2" y="338.3" width="10.0" height="10.0"/>
<rect x="1254.1" y="324.6" width="10.0" height="10.0"/>
<rect x="1263.9" y="314.3" width="10.0" height="10.0"/>
<rect x="1273.8" y="305.0" width="10.0" height="10.0"/>
<rect x="1283.7" y="296.9" width="10.0" height="10.0"/>
<rect x="1293.5" y="289.2" width="10.0" height="10.0"/>
<rect x="1303.4" y="280.9" width="10.0" height="10.0"/>
<rect x="1313.3" y="273.9" width="10.0" height="10.0"/>
<rect x="1323.2" y="268.2" width="10.0" height="10.0"/>
<rect x="1333.0" y="261.9" width="10.0" height="10.0"/>
<rect x="1342.9" y="256.1" width="10.0" height="10.0"/>
<rect x="1352.8" y="250.6" width="10.0" height="10.0"/>
<rect x="1362.6" y="245.5" width="10.0" height="10.0"/>
<rect x="1372.5" y="241.4" width="10.0" height="10.0"/>
<rect x="1382.4" y="236.8" width="10.0" height="10.0"/>
<rect x="1392.2" y="231.3" width="10.0" height="10.0"/>
<rect x="1402.1" y="225.6" width="10.0" height="10.0"/>
<rect x="1412.0" y="220.9" width="10.0" height="10.0"/>
<rect x="1421.9" y="216.8" width="10.0" height="10.0"/>
<rect x="1431.7" y="213.1" width="10.0" height="10.0"/>
<rect x="1441.6" y="209.8" width="10.0" height="10.0"/>
<rect x="1451.5" y="206.7" width="10.0" height="10.0"/>
<rect x="1461.3" y="203.5" width="10.0" height="10.0"/>
<rect x="1471.2" y="200.2" width="10.0" height="10.0"/>
<rect x="1481.1" y="196.9" width="10.0" height="10.0"/>
<rect x="1490.9" y="193.7" width="10.0" height="10.0"/>
<rect x="1500.8" y="190.7" width="10.0" height="10.0"/>
<rect x="1510.7" y="188.0" width="10.0" height="10.0"/>
<rect x="1520.6" y="185.5" width="10.0" height="10.0"/>
<rect x="1530.4" y="183.1" width="10.0" height="10.0"/>
<rect x="1540.3" y="180.8" width="10.0" height="10.0"/>
<rect x="1550.2" y="178.6" width="10.0" height="10.0"/>
<rect x="1560.0" y="176.5" width="10.0" height="10.0"/>
<rect x="1569.9" y="174.6" width="10.0" height="10.0"/>
<rect x="1579.8" y="172.7" width="10.0" height="10.0"/>
<rect x="1589.6" y="170.9" width="10.0" height="10.0"/>
<rect x="1599.5" y="169.3" width="10.0" height="10.0"/>
<rect x="1609.4" y="167.8" width="10.0" height="10.0"/>
<rect x="1619.2" y="166.3" width="10.0" height="10.0"/>
<rect x="1629.1" y="165.0" width="10.0" height="10.0"/>
<rect x="1639.0" y="163.9" width="10.0" height="10.0"/>
<rect x="1648.9" y="162.9" width="10.0" height="10.0"/>
<rect x="1658.7" y="162.0" width="10.0" height="10.0"/>
<rect x="1668.6" y="161.1" width="10.0" height="10.0"/>
<rect x="1678.5" y="160.3" width="10.0" height="10.0"/>
<rect x="1688.3" y="159.5" width="10.0" height="10.0"/>
<rect x="1698.2" y="158.7" width="10.0" height="10.0"/>
<rect x="1708.1" y="158.0" width="10.0" height="10.0"/>
<rect x="1718.0" y="157.5" width="10.0" height="10.0"/>
<rect x="1727.8" y="157.1" width="10.0" height="10.0"/>
<rect x="1737.7" y="156.7" width="10.0" height="10.0"/>
<rect x="1747.6" y="156.4" width="10.0" height="10.0"/>
<rect x="1757.4" y="156.3" width="10.0" height="10.0"/>
<rect x="1767.3" y="156.2" width="10.0" height="10.0"/>
</g>
<path d="M1076.5 500.0L1086.4 503.6L1096.2 510.0L1106.1 518.0L1116.0 523.0L1125.8 515.5L1135.7 514.0L1145.6 500.6L1155.5 481.0L1165.3 461.0L1175.2 429.4L1185.1 404.7L1194.9 381.5L1204.8 363.0L1214.7 324.4L1224.5 308.7L1234.4 289.8L1244.3 267.9L1254.2 251.4L1264.0 237.3L1273.9 227.1L1283.8 214.5L1293.6 204.3L1303.5 194.1L1313.4 185.5L1323.2 177.5L1333.1 170.6L1343.0 164.0L1352.9 157.7L1362.7 151.1L1372.6 144.0L1382.5 137.8L1392.3 132.6L1402.2 128.0L1412.1 123.6L1422.0 119.2L1431.8 114.8L1441.7 110.4L1451.6 106.2L1461.4 102.2L1471.3 98.5L1481.2 95.1L1491.0 91.8L1500.9 88.7L1510.8 85.9L1520.7 83.2L1530.5 80.7L1540.4 78.4L1550.3 76.0L1560.1 73.7L1570.0 71.4L1579.9 69.2L1589.7 67.0L1599.6 64.9L1609.5 62.8L1619.3 60.7L1629.2 58.8L1639.1 57.0L1649.0 55.3L1658.8 53.8L1668.7 52.3L1678.6 51.0L1688.4 49.6L1698.3 48.2L1708.2 46.9L1718.0 45.7L1727.9 44.8L1737.8 44.0L1747.7 43.3L1757.5 42.7L1767.4 42.2" fill="none" stroke="#ff0000" stroke-width="3.0" stroke-linejoin="round"/>
<g fill="#fff" stroke="#ff0000" stroke-width="3.3">
<circle cx="1076.5" cy="500.0" r="5.4"/>
<circle cx="1086.4" cy="503.6" r="5.4"/>
<circle cx="1096.2" cy="510.0" r="5.4"/>
<circle cx="1106.1" cy="518.0" r="5.4"/>
<circle cx="1116.0" cy="523.0" r="5.4"/>
<circle cx="1125.8" cy="515.5" r="5.4"/>
<circle cx="1135.7" cy="514.0" r="5.4"/>
<circle cx="1145.6" cy="500.6" r="5.4"/>
<circle cx="1155.5" cy="481.0" r="5.4"/>
<circle cx="1165.3" cy="461.0" r="5.4"/>
<circle cx="1175.2" cy="429.4" r="5.4"/>
<circle cx="1185.1" cy="404.7" r="5.4"/>
<circle cx="1194.9" cy="381.5" r="5.4"/>
<circle cx="1204.8" cy="363.0" r="5.4"/>
<circle cx="1214.7" cy="324.4" r="5.4"/>
<circle cx="1224.5" cy="308.7" r="5.4"/>
<circle cx="1234.4" cy="289.8" r="5.4"/>
<circle cx="1244.3" cy="267.9" r="5.4"/>
<circle cx="1254.2" cy="251.4" r="5.4"/>
<circle cx="1264.0" cy="237.3" r="5.4"/>
<circle cx="1273.9" cy="227.1" r="5.4"/>
<circle cx="1283.8" cy="214.5" r="5.4"/>
<circle cx="1293.6" cy="204.3" r="5.4"/>
<circle cx="1303.5" cy="194.1" r="5.4"/>
<circle cx="1313.4" cy="185.5" r="5.4"/>
<circle cx="1323.2" cy="177.5" r="5.4"/>
<circle cx="1333.1" cy="170.6" r="5.4"/>
<circle cx="1343.0" cy="164.0" r="5.4"/>
<circle cx="1352.9" cy="157.7" r="5.4"/>
<circle cx="1362.7" cy="151.1" r="5.4"/>
<circle cx="1372.6" cy="144.0" r="5.4"/>
<circle cx="1382.5" cy="137.8" r="5.4"/>
<circle cx="1392.3" cy="132.6" r="5.4"/>
<circle cx="1402.2" cy="128.0" r="5.4"/>
<circle cx="1412.1" cy="123.6" r="5.4"/>
<circle cx="1422.0" cy="119.2" r="5.4"/>
<circle cx="1431.8" cy="114.8" r="5.4"/>
<circle cx="1441.7" cy="110.4" r="5.4"/>
<circle cx="1451.6" cy="106.2" r="5.4"/>
<circle cx="1461.4" cy="102.2" r="5.4"/>
<circle cx="1471.3" cy="98.5" r="5.4"/>
<circle cx="1481.2" cy="95.1" r="5.4"/>
<circle cx="1491.0" cy="91.8" r="5.4"/>
<circle cx="1500.9" cy="88.7" r="5.4"/>
<circle cx="1510.8" cy="85.9" r="5.4"/>
<circle cx="1520.7" cy="83.2" r="5.4"/>
<circle cx="1530.5" cy="80.7" r="5.4"/>
<circle cx="1540.4" cy="78.4" r="5.4"/>
<circle cx="1550.3" cy="76.0" r="5.4"/>
<circle cx="1560.1" cy="73.7" r="5.4"/>
<circle cx="1570.0" cy="71.4" r="5.4"/>
<circle cx="1579.9" cy="69.2" r="5.4"/>
<circle cx="1589.7" cy="67.0" r="5.4"/>
<circle cx="1599.6" cy="64.9" r="5.4"/>
<circle cx="1609.5" cy="62.8" r="5.4"/>
<circle cx="1619.3" cy="60.7" r="5.4"/>
<circle cx="1629.2" cy="58.8" r="5.4"/>
<circle cx="1639.1" cy="57.0" r="5.4"/>
<circle cx="1649.0" cy="55.3" r="5.4"/>
<circle cx="1658.8" cy="53.8" r="5.4"/>
<circle cx="1668.7" cy="52.3" r="5.4"/>
<circle cx="1678.6" cy="51.0" r="5.4"/>
<circle cx="1688.4" cy="49.6" r="5.4"/>
<circle cx="1698.3" cy="48.2" r="5.4"/>
<circle cx="1708.2" cy="46.9" r="5.4"/>
<circle cx="1718.0" cy="45.7" r="5.4"/>
<circle cx="1727.9" cy="44.8" r="5.4"/>
<circle cx="1737.8" cy="44.0" r="5.4"/>
<circle cx="1747.7" cy="43.3" r="5.4"/>
<circle cx="1757.5" cy="42.7" r="5.4"/>
<circle cx="1767.4" cy="42.2" r="5.4"/>
</g>
<path d="M1076.5 553.7L1086.4 548.5L1096.2 556.7L1106.1 543.2L1116.0 552.2L1125.8 545.5L1135.7 562.0L1145.6 563.5L1155.5 556.0L1165.3 533.5L1175.2 508.0L1185.1 482.6L1194.9 455.6L1204.8 430.9L1214.7 403.2L1224.5 383.0L1234.4 367.5L1244.3 348.7L1254.2 333.0L1264.0 321.2L1273.9 311.8L1283.8 302.4L1293.6 295.3L1303.5 286.7L1313.4 278.9L1323.2 272.6L1333.1 267.1L1343.0 260.0L1352.9 255.3L1362.7 249.0L1372.6 245.1L1382.5 240.4L1392.3 235.7L1402.2 229.4L1412.1 224.4L1422.0 219.9L1431.8 215.9L1441.7 212.4L1451.6 209.2L1461.4 205.9L1471.3 202.6L1481.2 199.3L1491.0 196.0L1500.9 192.8L1510.8 189.9L1520.7 187.2L1530.5 184.7L1540.4 182.3L1550.3 180.0L1560.1 177.8L1570.0 175.7L1579.9 173.7L1589.7 171.8L1599.6 170.1L1609.5 168.5L1619.3 166.9L1629.2 165.5L1639.1 164.2L1649.0 163.1L1658.8 162.1L1668.7 161.1L1678.6 160.2L1688.4 159.4L1698.3 158.5L1708.2 157.7L1718.0 157.0L1727.9 156.4L1737.8 156.0L1747.7 155.6L1757.5 155.4L1767.4 155.2" fill="none" stroke="#ff0000" stroke-width="3.0" stroke-linejoin="round"/>
<g fill="#fff" stroke="#ff0000" stroke-width="3.3">
<circle cx="1076.5" cy="553.7" r="5.4"/>
<circle cx="1086.4" cy="548.5" r="5.4"/>
<circle cx="1096.2" cy="556.7" r="5.4"/>
<circle cx="1106.1" cy="543.2" r="5.4"/>
<circle cx="1116.0" cy="552.2" r="5.4"/>
<circle cx="1125.8" cy="545.5" r="5.4"/>
<circle cx="1135.7" cy="562.0" r="5.4"/>
<circle cx="1145.6" cy="563.5" r="5.4"/>
<circle cx="1155.5" cy="556.0" r="5.4"/>
<circle cx="1165.3" cy="533.5" r="5.4"/>
<circle cx="1175.2" cy="508.0" r="5.4"/>
<circle cx="1185.1" cy="482.6" r="5.4"/>
<circle cx="1194.9" cy="455.6" r="5.4"/>
<circle cx="1204.8" cy="430.9" r="5.4"/>
<circle cx="1214.7" cy="403.2" r="5.4"/>
<circle cx="1224.5" cy="383.0" r="5.4"/>
<circle cx="1234.4" cy="367.5" r="5.4"/>
<circle cx="1244.3" cy="348.7" r="5.4"/>
<circle cx="1254.2" cy="333.0" r="5.4"/>
<circle cx="1264.0" cy="321.2" r="5.4"/>
<circle cx="1273.9" cy="311.8" r="5.4"/>
<circle cx="1283.8" cy="302.4" r="5.4"/>
<circle cx="1293.6" cy="295.3" r="5.4"/>
<circle cx="1303.5" cy="286.7" r="5.4"/>
<circle cx="1313.4" cy="278.9" r="5.4"/>
<circle cx="1323.2" cy="272.6" r="5.4"/>
<circle cx="1333.1" cy="267.1" r="5.4"/>
<circle cx="1343.0" cy="260.0" r="5.4"/>
<circle cx="1352.9" cy="255.3" r="5.4"/>
<circle cx="1362.7" cy="249.0" r="5.4"/>
<circle cx="1372.6" cy="245.1" r="5.4"/>
<circle cx="1382.5" cy="240.4" r="5.4"/>
<circle cx="1392.3" cy="235.7" r="5.4"/>
<circle cx="1402.2" cy="229.4" r="5.4"/>
<circle cx="1412.1" cy="224.4" r="5.4"/>
<circle cx="1422.0" cy="219.9" r="5.4"/>
<circle cx="1431.8" cy="215.9" r="5.4"/>
<circle cx="1441.7" cy="212.4" r="5.4"/>
<circle cx="1451.6" cy="209.2" r="5.4"/>
<circle cx="1461.4" cy="205.9" r="5.4"/>
<circle cx="1471.3" cy="202.6" r="5.4"/>
<circle cx="1481.2" cy="199.3" r="5.4"/>
<circle cx="1491.0" cy="196.0" r="5.4"/>
<circle cx="1500.9" cy="192.8" r="5.4"/>
<circle cx="1510.8" cy="189.9" r="5.4"/>
<circle cx="1520.7" cy="187.2" r="5.4"/>
<circle cx="1530.5" cy="184.7" r="5.4"/>
<circle cx="1540.4" cy="182.3" r="5.4"/>
<circle cx="1550.3" cy="180.0" r="5.4"/>
<circle cx="1560.1" cy="177.8" r="5.4"/>
<circle cx="1570.0" cy="175.7" r="5.4"/>
<circle cx="1579.9" cy="173.7" r="5.4"/>
<circle cx="1589.7" cy="171.8" r="5.4"/>
<circle cx="1599.6" cy="170.1" r="5.4"/>
<circle cx="1609.5" cy="168.5" r="5.4"/>
<circle cx="1619.3" cy="166.9" r="5.4"/>
<circle cx="1629.2" cy="165.5" r="5.4"/>
<circle cx="1639.1" cy="164.2" r="5.4"/>
<circle cx="1649.0" cy="163.1" r="5.4"/>
<circle cx="1658.8" cy="162.1" r="5.4"/>
<circle cx="1668.7" cy="161.1" r="5.4"/>
<circle cx="1678.6" cy="160.2" r="5.4"/>
<circle cx="1688.4" cy="159.4" r="5.4"/>
<circle cx="1698.3" cy="158.5" r="5.4"/>
<circle cx="1708.2" cy="157.7" r="5.4"/>
<circle cx="1718.0" cy="157.0" r="5.4"/>
<circle cx="1727.9" cy="156.4" r="5.4"/>
<circle cx="1737.8" cy="156.0" r="5.4"/>
<circle cx="1747.7" cy="155.6" r="5.4"/>
<circle cx="1757.5" cy="155.4" r="5.4"/>
<circle cx="1767.4" cy="155.2" r="5.4"/>
</g>
</g>
<line x1="1315.3" y1="471.5" x2="1404.8" y2="471.5" stroke="#000000" stroke-width="2.8"/>
<rect x="1355.9" y="466.8" width="9.4" height="9.4" fill="#fff" stroke="#000000" stroke-width="2.3"/>
<line x1="1315.3" y1="529.0" x2="1404.8" y2="529.0" stroke="#ff0000" stroke-width="2.8"/>
<circle cx="1360.6" cy="529.0" r="5.0" fill="#fff" stroke="#ff0000" stroke-width="2.4"/>
<g clip-path="url(#cc)">
<path d="M164.8 1292.3L171.7 1292.3L178.6 1292.3L185.5 1292.3L192.4 1292.3L199.3 1292.3L206.2 1292.3L213.1 1292.3L220.0 1292.3L226.9 1292.3L233.8 1292.3L240.7 1292.3L247.6 1292.3L254.4 1292.3L261.3 1292.3L268.2 1292.3L275.1 1292.3L282.0 1292.3L288.9 1292.3L295.8 1292.3L302.7 1292.3L309.6 1292.3L316.5 1292.3L323.4 1292.3L330.3 1292.3L337.2 1292.3L344.1 1292.3L351.0 1292.3L357.9 1292.3L364.8 1292.3L371.7 1292.3L378.6 1292.3L385.5 1292.2L392.4 1291.8L399.3 1291.3L406.2 1290.7L413.1 1290.0L420.0 1289.1L424.9 1288.4L434.7 1286.0L443.2 1283.6L451.8 1279.9L460.3 1277.4L468.9 1275.0L477.4 1270.1L484.8 1262.8L493.3 1259.1L499.4 1255.4L508.0 1251.8L514.1 1249.3L522.7 1248.1L527.6 1238.3L534.9 1235.9L543.4 1238.3L550.8 1229.8L554.4 1218.8L563.0 1218.8L570.3 1221.2L576.4 1210.2L583.8 1204.1L591.1 1199.2L597.2 1195.6L603.3 1184.6L610.7 1180.9L618.0 1182.1L625.3 1185.8L632.7 1177.2L638.8 1154.0L646.1 1155.2L653.4 1145.4L660.8 1149.1L668.1 1168.7L675.4 1156.4L681.5 1119.8L688.9 1118.6L695.0 1125.9L702.3 1124.7L709.7 1123.4L715.8 1111.2L723.1 1100.2L730.4 1102.7L736.6 1111.2L743.9 1083.1L751.2 1083.1L757.3 1081.9L764.7 1044.0L772.0 1090.4L779.3 1117.3L785.4 1095.3L791.5 1058.7L798.8 1056.2L806.2 1073.3L812.3 1059.9L818.4 1040.3L825.7 1026.9L833.1 1023.2L840.4 1019.6L846.5 1066.0L852.5 1097.8" fill="none" stroke="#000000" stroke-width="2.9" stroke-linejoin="round"/>
<g fill="#fff" stroke="#000000" stroke-width="2.6">
<rect x="159.9" y="1287.4" width="9.8" height="9.8"/>
<rect x="166.8" y="1287.4" width="9.8" height="9.8"/>
<rect x="173.7" y="1287.4" width="9.8" height="9.8"/>
<rect x="180.6" y="1287.4" width="9.8" height="9.8"/>
<rect x="187.5" y="1287.4" width="9.8" height="9.8"/>
<rect x="194.4" y="1287.4" width="9.8" height="9.8"/>
<rect x="201.3" y="1287.4" width="9.8" height="9.8"/>
<rect x="208.2" y="1287.4" width="9.8" height="9.8"/>
<rect x="215.1" y="1287.4" width="9.8" height="9.8"/>
<rect x="222.0" y="1287.4" width="9.8" height="9.8"/>
<rect x="228.9" y="1287.4" width="9.8" height="9.8"/>
<rect x="235.8" y="1287.4" width="9.8" height="9.8"/>
<rect x="242.7" y="1287.4" width="9.8" height="9.8"/>
<rect x="249.5" y="1287.4" width="9.8" height="9.8"/>
<rect x="256.4" y="1287.4" width="9.8" height="9.8"/>
<rect x="263.3" y="1287.4" width="9.8" height="9.8"/>
<rect x="270.2" y="1287.4" width="9.8" height="9.8"/>
<rect x="277.1" y="1287.4" width="9.8" height="9.8"/>
<rect x="284.0" y="1287.4" width="9.8" height="9.8"/>
<rect x="290.9" y="1287.4" width="9.8" height="9.8"/>
<rect x="297.8" y="1287.4" width="9.8" height="9.8"/>
<rect x="304.7" y="1287.4" width="9.8" height="9.8"/>
<rect x="311.6" y="1287.4" width="9.8" height="9.8"/>
<rect x="318.5" y="1287.4" width="9.8" height="9.8"/>
<rect x="325.4" y="1287.4" width="9.8" height="9.8"/>
<rect x="332.3" y="1287.4" width="9.8" height="9.8"/>
<rect x="339.2" y="1287.4" width="9.8" height="9.8"/>
<rect x="346.1" y="1287.4" width="9.8" height="9.8"/>
<rect x="353.0" y="1287.4" width="9.8" height="9.8"/>
<rect x="359.9" y="1287.4" width="9.8" height="9.8"/>
<rect x="366.8" y="1287.4" width="9.8" height="9.8"/>
<rect x="373.7" y="1287.4" width="9.8" height="9.8"/>
<rect x="380.6" y="1287.3" width="9.8" height="9.8"/>
<rect x="387.5" y="1286.9" width="9.8" height="9.8"/>
<rect x="394.4" y="1286.4" width="9.8" height="9.8"/>
<rect x="401.3" y="1285.8" width="9.8" height="9.8"/>
<rect x="408.2" y="1285.1" width="9.8" height="9.8"/>
<rect x="415.1" y="1284.2" width="9.8" height="9.8"/>
<rect x="420.0" y="1283.5" width="9.8" height="9.8"/>
<rect x="429.8" y="1281.1" width="9.8" height="9.8"/>
<rect x="438.3" y="1278.7" width="9.8" height="9.8"/>
<rect x="446.9" y="1275.0" width="9.8" height="9.8"/>
<rect x="455.4" y="1272.5" width="9.8" height="9.8"/>
<rect x="464.0" y="1270.1" width="9.8" height="9.8"/>
<rect x="472.5" y="1265.2" width="9.8" height="9.8"/>
<rect x="479.9" y="1257.9" width="9.8" height="9.8"/>
<rect x="488.4" y="1254.2" width="9.8" height="9.8"/>
<rect x="494.5" y="1250.5" width="9.8" height="9.8"/>
<rect x="503.1" y="1246.9" width="9.8" height="9.8"/>
<rect x="509.2" y="1244.4" width="9.8" height="9.8"/>
<rect x="517.8" y="1243.2" width="9.8" height="9.8"/>
<rect x="522.7" y="1233.4" width="9.8" height="9.8"/>
<rect x="530.0" y="1231.0" width="9.8" height="9.8"/>
<rect x="538.5" y="1233.4" width="9.8" height="9.8"/>
<rect x="545.9" y="1224.9" width="9.8" height="9.8"/>
<rect x="549.5" y="1213.9" width="9.8" height="9.8"/>
<rect x="558.1" y="1213.9" width="9.8" height="9.8"/>
<rect x="565.4" y="1216.3" width="9.8" height="9.8"/>
<rect x="571.5" y="1205.3" width="9.8" height="9.8"/>
<rect x="578.9" y="1199.2" width="9.8" height="9.8"/>
<rect x="586.2" y="1194.3" width="9.8" height="9.8"/>
<rect x="592.3" y="1190.7" width="9.8" height="9.8"/>
<rect x="598.4" y="1179.7" width="9.8" height="9.8"/>
<rect x="605.8" y="1176.0" width="9.8" height="9.8"/>
<rect x="613.1" y="1177.2" width="9.8" height="9.8"/>
<rect x="620.4" y="1180.9" width="9.8" height="9.8"/>
<rect x="627.8" y="1172.3" width="9.8" height="9.8"/>
<rect x="633.9" y="1149.1" width="9.8" height="9.8"/>
<rect x="641.2" y="1150.3" width="9.8" height="9.8"/>
<rect x="648.5" y="1140.5" width="9.8" height="9.8"/>
<rect x="655.9" y="1144.2" width="9.8" height="9.8"/>
<rect x="663.2" y="1163.8" width="9.8" height="9.8"/>
<rect x="670.5" y="1151.5" width="9.8" height="9.8"/>
<rect x="676.6" y="1114.9" width="9.8" height="9.8"/>
<rect x="684.0" y="1113.7" width="9.8" height="9.8"/>
<rect x="690.1" y="1121.0" width="9.8" height="9.8"/>
<rect x="697.4" y="1119.8" width="9.8" height="9.8"/>
<rect x="704.8" y="1118.5" width="9.8" height="9.8"/>
<rect x="710.9" y="1106.3" width="9.8" height="9.8"/>
<rect x="718.2" y="1095.3" width="9.8" height="9.8"/>
<rect x="725.5" y="1097.8" width="9.8" height="9.8"/>
<rect x="731.7" y="1106.3" width="9.8" height="9.8"/>
<rect x="739.0" y="1078.2" width="9.8" height="9.8"/>
<rect x="746.3" y="1078.2" width="9.8" height="9.8"/>
<rect x="752.4" y="1077.0" width="9.8" height="9.8"/>
<rect x="759.8" y="1039.1" width="9.8" height="9.8"/>
<rect x="767.1" y="1085.5" width="9.8" height="9.8"/>
<rect x="774.4" y="1112.4" width="9.8" height="9.8"/>
<rect x="780.5" y="1090.4" width="9.8" height="9.8"/>
<rect x="786.6" y="1053.8" width="9.8" height="9.8"/>
<rect x="793.9" y="1051.3" width="9.8" height="9.8"/>
<rect x="801.3" y="1068.4" width="9.8" height="9.8"/>
<rect x="807.4" y="1055.0" width="9.8" height="9.8"/>
<rect x="813.5" y="1035.4" width="9.8" height="9.8"/>
<rect x="820.8" y="1022.0" width="9.8" height="9.8"/>
<rect x="828.2" y="1018.3" width="9.8" height="9.8"/>
<rect x="835.5" y="1014.7" width="9.8" height="9.8"/>
<rect x="841.6" y="1061.1" width="9.8" height="9.8"/>
<rect x="847.6" y="1092.9" width="9.8" height="9.8"/>
</g>
<path d="M164.8 1292.6L171.7 1292.6L178.6 1292.6L185.5 1292.6L192.4 1292.6L199.3 1292.6L206.2 1292.6L213.1 1292.6L220.0 1292.6L226.9 1292.6L233.8 1292.6L240.7 1292.6L247.6 1292.6L254.4 1292.6L261.3 1292.6L268.2 1292.6L275.1 1292.6L282.0 1292.6L288.9 1292.6L295.8 1292.6L302.7 1292.6L309.6 1292.6L316.5 1292.6L323.4 1292.6L330.3 1292.6L337.2 1292.6L344.1 1292.6L351.0 1292.6L357.9 1292.6L364.8 1292.6L371.7 1292.6L378.6 1292.6L385.5 1292.6L392.4 1292.6L399.3 1292.6L406.2 1292.6L413.1 1292.6L420.0 1292.6L426.8 1292.6L433.7 1292.4L440.6 1292.3L447.5 1292.1L454.4 1291.9L461.3 1291.6L468.2 1291.4L478.7 1290.9L486.0 1289.7L493.3 1288.4L500.7 1289.7L508.0 1288.4L515.3 1284.8L521.4 1283.6L527.6 1277.4L534.9 1273.8L542.2 1278.7L549.6 1275.0L556.9 1270.1L564.2 1265.2L570.3 1270.1L577.7 1265.2L583.8 1254.2L591.1 1251.8L597.2 1257.9L605.8 1255.4L611.9 1235.9L619.2 1234.7L626.6 1238.3L632.7 1221.2L640.0 1223.7L647.3 1218.8L653.4 1213.9L660.8 1221.2L668.1 1195.6L675.4 1188.2L681.5 1195.6L688.9 1185.8L695.0 1174.8L702.3 1165.0L709.7 1172.3L715.8 1185.8L723.1 1206.5L729.2 1157.7L736.6 1125.9L742.7 1171.1L750.0 1178.4L757.3 1141.8L763.4 1102.7L770.8 1107.6L778.1 1169.9L784.2 1146.7L791.5 1062.3L798.8 1174.8L805.0 1194.3L812.3 1113.7L819.7 1133.2L825.8 1127.1L833.1 1113.7L840.4 1042.8L846.5 1079.4L852.5 1155.2" fill="none" stroke="#ff0000" stroke-width="2.9" stroke-linejoin="round"/>
<g fill="#fff" stroke="#ff0000" stroke-width="2.7">
<circle cx="164.8" cy="1292.6" r="5.2"/>
<circle cx="171.7" cy="1292.6" r="5.2"/>
<circle cx="178.6" cy="1292.6" r="5.2"/>
<circle cx="185.5" cy="1292.6" r="5.2"/>
<circle cx="192.4" cy="1292.6" r="5.2"/>
<circle cx="199.3" cy="1292.6" r="5.2"/>
<circle cx="206.2" cy="1292.6" r="5.2"/>
<circle cx="213.1" cy="1292.6" r="5.2"/>
<circle cx="220.0" cy="1292.6" r="5.2"/>
<circle cx="226.9" cy="1292.6" r="5.2"/>
<circle cx="233.8" cy="1292.6" r="5.2"/>
<circle cx="240.7" cy="1292.6" r="5.2"/>
<circle cx="247.6" cy="1292.6" r="5.2"/>
<circle cx="254.4" cy="1292.6" r="5.2"/>
<circle cx="261.3" cy="1292.6" r="5.2"/>
<circle cx="268.2" cy="1292.6" r="5.2"/>
<circle cx="275.1" cy="1292.6" r="5.2"/>
<circle cx="282.0" cy="1292.6" r="5.2"/>
<circle cx="288.9" cy="1292.6" r="5.2"/>
<circle cx="295.8" cy="1292.6" r="5.2"/>
<circle cx="302.7" cy="1292.6" r="5.2"/>
<circle cx="309.6" cy="1292.6" r="5.2"/>
<circle cx="316.5" cy="1292.6" r="5.2"/>
<circle cx="323.4" cy="1292.6" r="5.2"/>
<circle cx="330.3" cy="1292.6" r="5.2"/>
<circle cx="337.2" cy="1292.6" r="5.2"/>
<circle cx="344.1" cy="1292.6" r="5.2"/>
<circle cx="351.0" cy="1292.6" r="5.2"/>
<circle cx="357.9" cy="1292.6" r="5.2"/>
<circle cx="364.8" cy="1292.6" r="5.2"/>
<circle cx="371.7" cy="1292.6" r="5.2"/>
<circle cx="378.6" cy="1292.6" r="5.2"/>
<circle cx="385.5" cy="1292.6" r="5.2"/>
<circle cx="392.4" cy="1292.6" r="5.2"/>
<circle cx="399.3" cy="1292.6" r="5.2"/>
<circle cx="406.2" cy="1292.6" r="5.2"/>
<circle cx="413.1" cy="1292.6" r="5.2"/>
<circle cx="420.0" cy="1292.6" r="5.2"/>
<circle cx="426.8" cy="1292.6" r="5.2"/>
<circle cx="433.7" cy="1292.4" r="5.2"/>
<circle cx="440.6" cy="1292.3" r="5.2"/>
<circle cx="447.5" cy="1292.1" r="5.2"/>
<circle cx="454.4" cy="1291.9" r="5.2"/>
<circle cx="461.3" cy="1291.6" r="5.2"/>
<circle cx="468.2" cy="1291.4" r="5.2"/>
<circle cx="478.7" cy="1290.9" r="5.2"/>
<circle cx="486.0" cy="1289.7" r="5.2"/>
<circle cx="493.3" cy="1288.4" r="5.2"/>
<circle cx="500.7" cy="1289.7" r="5.2"/>
<circle cx="508.0" cy="1288.4" r="5.2"/>
<circle cx="515.3" cy="1284.8" r="5.2"/>
<circle cx="521.4" cy="1283.6" r="5.2"/>
<circle cx="527.6" cy="1277.4" r="5.2"/>
<circle cx="534.9" cy="1273.8" r="5.2"/>
<circle cx="542.2" cy="1278.7" r="5.2"/>
<circle cx="549.6" cy="1275.0" r="5.2"/>
<circle cx="556.9" cy="1270.1" r="5.2"/>
<circle cx="564.2" cy="1265.2" r="5.2"/>
<circle cx="570.3" cy="1270.1" r="5.2"/>
<circle cx="577.7" cy="1265.2" r="5.2"/>
<circle cx="583.8" cy="1254.2" r="5.2"/>
<circle cx="591.1" cy="1251.8" r="5.2"/>
<circle cx="597.2" cy="1257.9" r="5.2"/>
<circle cx="605.8" cy="1255.4" r="5.2"/>
<circle cx="611.9" cy="1235.9" r="5.2"/>
<circle cx="619.2" cy="1234.7" r="5.2"/>
<circle cx="626.6" cy="1238.3" r="5.2"/>
<circle cx="632.7" cy="1221.2" r="5.2"/>
<circle cx="640.0" cy="1223.7" r="5.2"/>
<circle cx="647.3" cy="1218.8" r="5.2"/>
<circle cx="653.4" cy="1213.9" r="5.2"/>
<circle cx="660.8" cy="1221.2" r="5.2"/>
<circle cx="668.1" cy="1195.6" r="5.2"/>
<circle cx="675.4" cy="1188.2" r="5.2"/>
<circle cx="681.5" cy="1195.6" r="5.2"/>
<circle cx="688.9" cy="1185.8" r="5.2"/>
<circle cx="695.0" cy="1174.8" r="5.2"/>
<circle cx="702.3" cy="1165.0" r="5.2"/>
<circle cx="709.7" cy="1172.3" r="5.2"/>
<circle cx="715.8" cy="1185.8" r="5.2"/>
<circle cx="723.1" cy="1206.5" r="5.2"/>
<circle cx="729.2" cy="1157.7" r="5.2"/>
<circle cx="736.6" cy="1125.9" r="5.2"/>
<circle cx="742.7" cy="1171.1" r="5.2"/>
<circle cx="750.0" cy="1178.4" r="5.2"/>
<circle cx="757.3" cy="1141.8" r="5.2"/>
<circle cx="763.4" cy="1102.7" r="5.2"/>
<circle cx="770.8" cy="1107.6" r="5.2"/>
<circle cx="778.1" cy="1169.9" r="5.2"/>
<circle cx="784.2" cy="1146.7" r="5.2"/>
<circle cx="791.5" cy="1062.3" r="5.2"/>
<circle cx="798.8" cy="1174.8" r="5.2"/>
<circle cx="805.0" cy="1194.3" r="5.2"/>
<circle cx="812.3" cy="1113.7" r="5.2"/>
<circle cx="819.7" cy="1133.2" r="5.2"/>
<circle cx="825.8" cy="1127.1" r="5.2"/>
<circle cx="833.1" cy="1113.7" r="5.2"/>
<circle cx="840.4" cy="1042.8" r="5.2"/>
<circle cx="846.5" cy="1079.4" r="5.2"/>
<circle cx="852.5" cy="1155.2" r="5.2"/>
</g>
</g>
<line x1="185.6" y1="895.6" x2="285.6" y2="895.6" stroke="#000000" stroke-width="2.5"/>
<rect x="230.5" y="891.1" width="9.0" height="9.0" fill="#fff" stroke="#000000" stroke-width="2.1"/>
<line x1="185.6" y1="959.4" x2="285.6" y2="959.4" stroke="#ff0000" stroke-width="2.5"/>
<circle cx="235.0" cy="959.4" r="4.8" fill="#fff" stroke="#ff0000" stroke-width="2.2"/>
<g clip-path="url(#cd)">
<path d="M1074.0 1290.0L1083.8 1290.0L1093.7 1290.0L1103.5 1290.0L1113.4 1290.0L1123.2 1290.0L1133.0 1290.0L1142.9 1290.0L1152.7 1290.0L1162.6 1290.0L1172.4 1290.0L1182.2 1290.0L1192.1 1290.0L1201.9 1290.0L1211.8 1290.0L1221.6 1290.0L1231.4 1290.0L1241.3 1290.0L1251.1 1290.0L1261.0 1290.0L1270.8 1289.6L1280.6 1288.6L1290.5 1286.6L1300.3 1282.1L1310.2 1276.4L1320.0 1269.9L1329.8 1265.1L1339.7 1260.1L1349.5 1255.3L1359.4 1247.7L1369.2 1236.2L1379.0 1227.8L1388.9 1218.1L1398.7 1211.4L1408.6 1202.1L1418.4 1192.2L1428.2 1182.5L1438.1 1174.3L1447.9 1160.9L1457.8 1153.0L1467.6 1142.9L1477.4 1131.6L1487.3 1123.2L1497.1 1112.0L1507.0 1106.4L1516.8 1104.2L1526.6 1097.9L1536.5 1076.8L1546.3 1065.7L1556.2 1055.4L1566.0 1050.2L1575.8 1040.7L1585.7 1034.6L1595.5 1029.5L1605.4 1016.2L1615.2 1010.1L1625.0 1006.3L1634.9 1002.7L1644.7 990.0L1654.6 986.9L1664.4 983.7L1674.2 968.0L1684.1 955.3L1693.9 949.3L1703.8 944.7L1713.6 934.6L1723.4 928.3L1733.3 926.8L1743.1 914.1L1753.0 914.1L1762.8 922.9" fill="none" stroke="#000000" stroke-width="3.2" stroke-linejoin="round"/>
<g fill="#fff" stroke="#000000" stroke-width="2.8">
<rect x="1069.2" y="1285.2" width="9.6" height="9.6"/>
<rect x="1079.0" y="1285.2" width="9.6" height="9.6"/>
<rect x="1088.9" y="1285.2" width="9.6" height="9.6"/>
<rect x="1098.7" y="1285.2" width="9.6" height="9.6"/>
<rect x="1108.6" y="1285.2" width="9.6" height="9.6"/>
<rect x="1118.4" y="1285.2" width="9.6" height="9.6"/>
<rect x="1128.2" y="1285.2" width="9.6" height="9.6"/>
<rect x="1138.1" y="1285.2" width="9.6" height="9.6"/>
<rect x="1147.9" y="1285.2" width="9.6" height="9.6"/>
<rect x="1157.8" y="1285.2" width="9.6" height="9.6"/>
<rect x="1167.6" y="1285.2" width="9.6" height="9.6"/>
<rect x="1177.4" y="1285.2" width="9.6" height="9.6"/>
<rect x="1187.3" y="1285.2" width="9.6" height="9.6"/>
<rect x="1197.1" y="1285.2" width="9.6" height="9.6"/>
<rect x="1207.0" y="1285.2" width="9.6" height="9.6"/>
<rect x="1216.8" y="1285.2" width="9.6" height="9.6"/>
<rect x="1226.6" y="1285.2" width="9.6" height="9.6"/>
<rect x="1236.5" y="1285.2" width="9.6" height="9.6"/>
<rect x="1246.3" y="1285.2" width="9.6" height="9.6"/>
<rect x="1256.2" y="1285.2" width="9.6" height="9.6"/>
<rect x="1266.0" y="1284.8" width="9.6" height="9.6"/>
<rect x="1275.8" y="1283.8" width="9.6" height="9.6"/>
<rect x="1285.7" y="1281.8" width="9.6" height="9.6"/>
<rect x="1295.5" y="1277.3" width="9.6" height="9.6"/>
<rect x="1305.4" y="1271.6" width="9.6" height="9.6"/>
<rect x="1315.2" y="1265.1" width="9.6" height="9.6"/>
<rect x="1325.0" y="1260.3" width="9.6" height="9.6"/>
<rect x="1334.9" y="1255.3" width="9.6" height="9.6"/>
<rect x="1344.7" y="1250.5" width="9.6" height="9.6"/>
<rect x="1354.6" y="1242.9" width="9.6" height="9.6"/>
<rect x="1364.4" y="1231.4" width="9.6" height="9.6"/>
<rect x="1374.2" y="1223.0" width="9.6" height="9.6"/>
<rect x="1384.1" y="1213.3" width="9.6" height="9.6"/>
<rect x="1393.9" y="1206.6" width="9.6" height="9.6"/>
<rect x="1403.8" y="1197.3" width="9.6" height="9.6"/>
<rect x="1413.6" y="1187.4" width="9.6" height="9.6"/>
<rect x="1423.4" y="1177.7" width="9.6" height="9.6"/>
<rect x="1433.3" y="1169.5" width="9.6" height="9.6"/>
<rect x="1443.1" y="1156.1" width="9.6" height="9.6"/>
<rect x="1453.0" y="1148.2" width="9.6" height="9.6"/>
<rect x="1462.8" y="1138.1" width="9.6" height="9.6"/>
<rect x="1472.6" y="1126.8" width="9.6" height="9.6"/>
<rect x="1482.5" y="1118.4" width="9.6" height="9.6"/>
<rect x="1492.3" y="1107.2" width="9.6" height="9.6"/>
<rect x="1502.2" y="1101.6" width="9.6" height="9.6"/>
<rect x="1512.0" y="1099.4" width="9.6" height="9.6"/>
<rect x="1521.8" y="1093.1" width="9.6" height="9.6"/>
<rect x="1531.7" y="1072.0" width="9.6" height="9.6"/>
<rect x="1541.5" y="1060.9" width="9.6" height="9.6"/>
<rect x="1551.4" y="1050.6" width="9.6" height="9.6"/>
<rect x="1561.2" y="1045.4" width="9.6" height="9.6"/>
<rect x="1571.0" y="1035.9" width="9.6" height="9.6"/>
<rect x="1580.9" y="1029.8" width="9.6" height="9.6"/>
<rect x="1590.7" y="1024.7" width="9.6" height="9.6"/>
<rect x="1600.6" y="1011.4" width="9.6" height="9.6"/>
<rect x="1610.4" y="1005.3" width="9.6" height="9.6"/>
<rect x="1620.2" y="1001.5" width="9.6" height="9.6"/>
<rect x="1630.1" y="997.9" width="9.6" height="9.6"/>
<rect x="1639.9" y="985.2" width="9.6" height="9.6"/>
<rect x="1649.8" y="982.1" width="9.6" height="9.6"/>
<rect x="1659.6" y="978.9" width="9.6" height="9.6"/>
<rect x="1669.4" y="963.2" width="9.6" height="9.6"/>
<rect x="1679.3" y="950.5" width="9.6" height="9.6"/>
<rect x="1689.1" y="944.5" width="9.6" height="9.6"/>
<rect x="1699.0" y="939.9" width="9.6" height="9.6"/>
<rect x="1708.8" y="929.8" width="9.6" height="9.6"/>
<rect x="1718.6" y="923.5" width="9.6" height="9.6"/>
<rect x="1728.5" y="922.0" width="9.6" height="9.6"/>
<rect x="1738.3" y="909.3" width="9.6" height="9.6"/>
<rect x="1748.2" y="909.3" width="9.6" height="9.6"/>
<rect x="1758.0" y="918.1" width="9.6" height="9.6"/>
</g>
<path d="M1074.0 1289.6L1083.8 1289.6L1093.7 1289.6L1103.5 1289.6L1113.4 1289.6L1123.2 1289.6L1133.0 1289.6L1142.9 1289.6L1152.7 1289.6L1162.6 1289.6L1172.4 1289.6L1182.2 1289.6L1192.1 1289.6L1201.9 1289.6L1211.8 1289.2L1221.6 1288.5L1231.4 1287.9L1241.3 1287.4L1251.1 1286.8L1261.0 1285.4L1270.8 1283.9L1280.6 1280.0L1290.5 1275.5L1300.3 1270.9L1310.2 1266.7L1320.0 1260.9L1329.8 1254.4L1339.7 1250.8L1349.5 1242.4L1359.4 1230.3L1369.2 1220.0L1379.0 1210.1L1388.9 1201.6L1398.7 1191.2L1408.6 1180.7L1418.4 1169.8L1428.2 1158.2L1438.1 1146.3L1447.9 1137.4L1457.8 1123.3L1467.6 1110.7L1477.4 1099.6L1487.3 1090.4L1497.1 1088.9L1507.0 1079.7L1516.8 1050.6L1526.6 1039.7L1536.5 1031.9L1546.3 1019.7L1556.2 1006.9L1566.0 996.5L1575.8 986.2L1585.7 970.2L1595.5 959.4L1605.4 955.0L1615.2 947.2L1625.0 932.1L1634.9 921.0L1644.7 914.4L1654.6 908.5L1664.4 899.0L1674.2 885.4L1684.1 882.0L1693.9 877.6L1703.8 868.5L1713.6 862.8L1723.4 856.2L1733.3 848.6L1743.1 845.3L1753.0 841.0L1762.8 830.8" fill="none" stroke="#ff0000" stroke-width="3.2" stroke-linejoin="round"/>
<g fill="#fff" stroke="#ff0000" stroke-width="3.0">
<circle cx="1074.0" cy="1289.6" r="5.2"/>
<circle cx="1083.8" cy="1289.6" r="5.2"/>
<circle cx="1093.7" cy="1289.6" r="5.2"/>
<circle cx="1103.5" cy="1289.6" r="5.2"/>
<circle cx="1113.4" cy="1289.6" r="5.2"/>
<circle cx="1123.2" cy="1289.6" r="5.2"/>
<circle cx="1133.0" cy="1289.6" r="5.2"/>
<circle cx="1142.9" cy="1289.6" r="5.2"/>
<circle cx="1152.7" cy="1289.6" r="5.2"/>
<circle cx="1162.6" cy="1289.6" r="5.2"/>
<circle cx="1172.4" cy="1289.6" r="5.2"/>
<circle cx="1182.2" cy="1289.6" r="5.2"/>
<circle cx="1192.1" cy="1289.6" r="5.2"/>
<circle cx="1201.9" cy="1289.6" r="5.2"/>
<circle cx="1211.8" cy="1289.2" r="5.2"/>
<circle cx="1221.6" cy="1288.5" r="5.2"/>
<circle cx="1231.4" cy="1287.9" r="5.2"/>
<circle cx="1241.3" cy="1287.4" r="5.2"/>
<circle cx="1251.1" cy="1286.8" r="5.2"/>
<circle cx="1261.0" cy="1285.4" r="5.2"/>
<circle cx="1270.8" cy="1283.9" r="5.2"/>
<circle cx="1280.6" cy="1280.0" r="5.2"/>
<circle cx="1290.5" cy="1275.5" r="5.2"/>
<circle cx="1300.3" cy="1270.9" r="5.2"/>
<circle cx="1310.2" cy="1266.7" r="5.2"/>
<circle cx="1320.0" cy="1260.9" r="5.2"/>
<circle cx="1329.8" cy="1254.4" r="5.2"/>
<circle cx="1339.7" cy="1250.8" r="5.2"/>
<circle cx="1349.5" cy="1242.4" r="5.2"/>
<circle cx="1359.4" cy="1230.3" r="5.2"/>
<circle cx="1369.2" cy="1220.0" r="5.2"/>
<circle cx="1379.0" cy="1210.1" r="5.2"/>
<circle cx="1388.9" cy="1201.6" r="5.2"/>
<circle cx="1398.7" cy="1191.2" r="5.2"/>
<circle cx="1408.6" cy="1180.7" r="5.2"/>
<circle cx="1418.4" cy="1169.8" r="5.2"/>
<circle cx="1428.2" cy="1158.2" r="5.2"/>
<circle cx="1438.1" cy="1146.3" r="5.2"/>
<circle cx="1447.9" cy="1137.4" r="5.2"/>
<circle cx="1457.8" cy="1123.3" r="5.2"/>
<circle cx="1467.6" cy="1110.7" r="5.2"/>
<circle cx="1477.4" cy="1099.6" r="5.2"/>
<circle cx="1487.3" cy="1090.4" r="5.2"/>
<circle cx="1497.1" cy="1088.9" r="5.2"/>
<circle cx="1507.0" cy="1079.7" r="5.2"/>
<circle cx="1516.8" cy="1050.6" r="5.2"/>
<circle cx="1526.6" cy="1039.7" r="5.2"/>
<circle cx="1536.5" cy="1031.9" r="5.2"/>
<circle cx="1546.3" cy="1019.7" r="5.2"/>
<circle cx="1556.2" cy="1006.9" r="5.2"/>
<circle cx="1566.0" cy="996.5" r="5.2"/>
<circle cx="1575.8" cy="986.2" r="5.2"/>
<circle cx="1585.7" cy="970.2" r="5.2"/>
<circle cx="1595.5" cy="959.4" r="5.2"/>
<circle cx="1605.4" cy="955.0" r="5.2"/>
<circle cx="1615.2" cy="947.2" r="5.2"/>
<circle cx="1625.0" cy="932.1" r="5.2"/>
<circle cx="1634.9" cy="921.0" r="5.2"/>
<circle cx="1644.7" cy="914.4" r="5.2"/>
<circle cx="1654.6" cy="908.5" r="5.2"/>
<circle cx="1664.4" cy="899.0" r="5.2"/>
<circle cx="1674.2" cy="885.4" r="5.2"/>
<circle cx="1684.1" cy="882.0" r="5.2"/>
<circle cx="1693.9" cy="877.6" r="5.2"/>
<circle cx="1703.8" cy="868.5" r="5.2"/>
<circle cx="1713.6" cy="862.8" r="5.2"/>
<circle cx="1723.4" cy="856.2" r="5.2"/>
<circle cx="1733.3" cy="848.6" r="5.2"/>
<circle cx="1743.1" cy="845.3" r="5.2"/>
<circle cx="1753.0" cy="841.0" r="5.2"/>
<circle cx="1762.8" cy="830.8" r="5.2"/>
</g>
</g>
<line x1="1093.2" y1="893.0" x2="1193.3" y2="893.0" stroke="#000000" stroke-width="2.5"/>
<rect x="1137.8" y="888.5" width="9.0" height="9.0" fill="#fff" stroke="#000000" stroke-width="2.1"/>
<line x1="1093.2" y1="956.4" x2="1193.3" y2="956.4" stroke="#ff0000" stroke-width="2.5"/>
<circle cx="1142.3" cy="956.4" r="4.8" fill="#fff" stroke="#ff0000" stroke-width="2.2"/>
<line x1="164.40" y1="582.20" x2="164.40" y2="573.20" stroke="#000" stroke-width="2.6" stroke-linecap="butt"/>
<line x1="317.71" y1="582.20" x2="317.71" y2="573.20" stroke="#000" stroke-width="2.6" stroke-linecap="butt"/>
<line x1="471.02" y1="582.20" x2="471.02" y2="573.20" stroke="#000" stroke-width="2.6" stroke-linecap="butt"/>
<line x1="624.33" y1="582.20" x2="624.33" y2="573.20" stroke="#000" stroke-width="2.6" stroke-linecap="butt"/>
<line x1="777.64" y1="582.20" x2="777.64" y2="573.20" stroke="#000" stroke-width="2.6" stroke-linecap="butt"/>
<line x1="241.06" y1="582.20" x2="241.06" y2="577.70" stroke="#000" stroke-width="2.6" stroke-linecap="butt"/>
<line x1="394.37" y1="582.20" x2="394.37" y2="577.70" stroke="#000" stroke-width="2.6" stroke-linecap="butt"/>
<line x1="547.68" y1="582.20" x2="547.68" y2="577.70" stroke="#000" stroke-width="2.6" stroke-linecap="butt"/>
<line x1="700.99" y1="582.20" x2="700.99" y2="577.70" stroke="#000" stroke-width="2.6" stroke-linecap="butt"/>
<line x1="164.40" y1="582.20" x2="173.40" y2="582.20" stroke="#000" stroke-width="2.6" stroke-linecap="butt"/>
<line x1="164.40" y1="520.54" x2="173.40" y2="520.54" stroke="#000" stroke-width="2.6" stroke-linecap="butt"/>
<line x1="164.40" y1="458.89" x2="173.40" y2="458.89" stroke="#000" stroke-width="2.6" stroke-linecap="butt"/>
<line x1="164.40" y1="397.23" x2="173.40" y2="397.23" stroke="#000" stroke-width="2.6" stroke-linecap="butt"/>
<line x1="164.40" y1="335.58" x2="173.40" y2="335.58" stroke="#000" stroke-width="2.6" stroke-linecap="butt"/>
<line x1="164.40" y1="273.92" x2="173.40" y2="273.92" stroke="#000" stroke-width="2.6" stroke-linecap="butt"/>
<line x1="164.40" y1="212.27" x2="173.40" y2="212.27" stroke="#000" stroke-width="2.6" stroke-linecap="butt"/>
<line x1="164.40" y1="150.61" x2="173.40" y2="150.61" stroke="#000" stroke-width="2.6" stroke-linecap="butt"/>
<line x1="164.40" y1="88.96" x2="173.40" y2="88.96" stroke="#000" stroke-width="2.6" stroke-linecap="butt"/>
<line x1="164.40" y1="27.30" x2="173.40" y2="27.30" stroke="#000" stroke-width="2.6" stroke-linecap="butt"/>
<line x1="164.40" y1="563.64" x2="168.90" y2="563.64" stroke="#000" stroke-width="2.6" stroke-linecap="butt"/>
<line x1="164.40" y1="552.78" x2="168.90" y2="552.78" stroke="#000" stroke-width="2.6" stroke-linecap="butt"/>
<line x1="164.40" y1="545.08" x2="168.90" y2="545.08" stroke="#000" stroke-width="2.6" stroke-linecap="butt"/>
<line x1="164.40" y1="539.10" x2="168.90" y2="539.10" stroke="#000" stroke-width="2.6" stroke-linecap="butt"/>
<line x1="164.40" y1="534.22" x2="168.90" y2="534.22" stroke="#000" stroke-width="2.6" stroke-linecap="butt"/>
<line x1="164.40" y1="530.10" x2="168.90" y2="530.10" stroke="#000" stroke-width="2.6" stroke-linecap="butt"/>
<line x1="164.40" y1="526.52" x2="168.90" y2="526.52" stroke="#000" stroke-width="2.6" stroke-linecap="butt"/>
<line x1="164.40" y1="523.37" x2="168.90" y2="523.37" stroke="#000" stroke-width="2.6" stroke-linecap="butt"/>
<line x1="164.40" y1="501.98" x2="168.90" y2="501.98" stroke="#000" stroke-width="2.6" stroke-linecap="butt"/>
<line x1="164.40" y1="491.13" x2="168.90" y2="491.13" stroke="#000" stroke-width="2.6" stroke-linecap="butt"/>
<line x1="164.40" y1="483.42" x2="168.90" y2="483.42" stroke="#000" stroke-width="2.6" stroke-linecap="butt"/>
<line x1="164.40" y1="477.45" x2="168.90" y2="477.45" stroke="#000" stroke-width="2.6" stroke-linecap="butt"/>
<line x1="164.40" y1="472.57" x2="168.90" y2="472.57" stroke="#000" stroke-width="2.6" stroke-linecap="butt"/>
<line x1="164.40" y1="468.44" x2="168.90" y2="468.44" stroke="#000" stroke-width="2.6" stroke-linecap="butt"/>
<line x1="164.40" y1="464.86" x2="168.90" y2="464.86" stroke="#000" stroke-width="2.6" stroke-linecap="butt"/>
<line x1="164.40" y1="461.71" x2="168.90" y2="461.71" stroke="#000" stroke-width="2.6" stroke-linecap="butt"/>
<line x1="164.40" y1="440.33" x2="168.90" y2="440.33" stroke="#000" stroke-width="2.6" stroke-linecap="butt"/>
<line x1="164.40" y1="429.47" x2="168.90" y2="429.47" stroke="#000" stroke-width="2.6" stroke-linecap="butt"/>
<line x1="164.40" y1="421.77" x2="168.90" y2="421.77" stroke="#000" stroke-width="2.6" stroke-linecap="butt"/>
<line x1="164.40" y1="415.79" x2="168.90" y2="415.79" stroke="#000" stroke-width="2.6" stroke-linecap="butt"/>
<line x1="164.40" y1="410.91" x2="168.90" y2="410.91" stroke="#000" stroke-width="2.6" stroke-linecap="butt"/>
<line x1="164.40" y1="406.78" x2="168.90" y2="406.78" stroke="#000" stroke-width="2.6" stroke-linecap="butt"/>
<line x1="164.40" y1="403.21" x2="168.90" y2="403.21" stroke="#000" stroke-width="2.6" stroke-linecap="butt"/>
<line x1="164.40" y1="400.05" x2="168.90" y2="400.05" stroke="#000" stroke-width="2.6" stroke-linecap="butt"/>
<line x1="164.40" y1="378.67" x2="168.90" y2="378.67" stroke="#000" stroke-width="2.6" stroke-linecap="butt"/>
<line x1="164.40" y1="367.82" x2="168.90" y2="367.82" stroke="#000" stroke-width="2.6" stroke-linecap="butt"/>
<line x1="164.40" y1="360.11" x2="168.90" y2="360.11" stroke="#000" stroke-width="2.6" stroke-linecap="butt"/>
<line x1="164.40" y1="354.14" x2="168.90" y2="354.14" stroke="#000" stroke-width="2.6" stroke-linecap="butt"/>
<line x1="164.40" y1="349.26" x2="168.90" y2="349.26" stroke="#000" stroke-width="2.6" stroke-linecap="butt"/>
<line x1="164.40" y1="345.13" x2="168.90" y2="345.13" stroke="#000" stroke-width="2.6" stroke-linecap="butt"/>
<line x1="164.40" y1="341.55" x2="168.90" y2="341.55" stroke="#000" stroke-width="2.6" stroke-linecap="butt"/>
<line x1="164.40" y1="338.40" x2="168.90" y2="338.40" stroke="#000" stroke-width="2.6" stroke-linecap="butt"/>
<line x1="164.40" y1="317.02" x2="168.90" y2="317.02" stroke="#000" stroke-width="2.6" stroke-linecap="butt"/>
<line x1="164.40" y1="306.16" x2="168.90" y2="306.16" stroke="#000" stroke-width="2.6" stroke-linecap="butt"/>
<line x1="164.40" y1="298.46" x2="168.90" y2="298.46" stroke="#000" stroke-width="2.6" stroke-linecap="butt"/>
<line x1="164.40" y1="292.48" x2="168.90" y2="292.48" stroke="#000" stroke-width="2.6" stroke-linecap="butt"/>
<line x1="164.40" y1="287.60" x2="168.90" y2="287.60" stroke="#000" stroke-width="2.6" stroke-linecap="butt"/>
<line x1="164.40" y1="283.47" x2="168.90" y2="283.47" stroke="#000" stroke-width="2.6" stroke-linecap="butt"/>
<line x1="164.40" y1="279.90" x2="168.90" y2="279.90" stroke="#000" stroke-width="2.6" stroke-linecap="butt"/>
<line x1="164.40" y1="276.74" x2="168.90" y2="276.74" stroke="#000" stroke-width="2.6" stroke-linecap="butt"/>
<line x1="164.40" y1="255.36" x2="168.90" y2="255.36" stroke="#000" stroke-width="2.6" stroke-linecap="butt"/>
<line x1="164.40" y1="244.51" x2="168.90" y2="244.51" stroke="#000" stroke-width="2.6" stroke-linecap="butt"/>
<line x1="164.40" y1="236.80" x2="168.90" y2="236.80" stroke="#000" stroke-width="2.6" stroke-linecap="butt"/>
<line x1="164.40" y1="230.83" x2="168.90" y2="230.83" stroke="#000" stroke-width="2.6" stroke-linecap="butt"/>
<line x1="164.40" y1="225.94" x2="168.90" y2="225.94" stroke="#000" stroke-width="2.6" stroke-linecap="butt"/>
<line x1="164.40" y1="221.82" x2="168.90" y2="221.82" stroke="#000" stroke-width="2.6" stroke-linecap="butt"/>
<line x1="164.40" y1="218.24" x2="168.90" y2="218.24" stroke="#000" stroke-width="2.6" stroke-linecap="butt"/>
<line x1="164.40" y1="215.09" x2="168.90" y2="215.09" stroke="#000" stroke-width="2.6" stroke-linecap="butt"/>
<line x1="164.40" y1="193.71" x2="168.90" y2="193.71" stroke="#000" stroke-width="2.6" stroke-linecap="butt"/>
<line x1="164.40" y1="182.85" x2="168.90" y2="182.85" stroke="#000" stroke-width="2.6" stroke-linecap="butt"/>
<line x1="164.40" y1="175.15" x2="168.90" y2="175.15" stroke="#000" stroke-width="2.6" stroke-linecap="butt"/>
<line x1="164.40" y1="169.17" x2="168.90" y2="169.17" stroke="#000" stroke-width="2.6" stroke-linecap="butt"/>
<line x1="164.40" y1="164.29" x2="168.90" y2="164.29" stroke="#000" stroke-width="2.6" stroke-linecap="butt"/>
<line x1="164.40" y1="160.16" x2="168.90" y2="160.16" stroke="#000" stroke-width="2.6" stroke-linecap="butt"/>
<line x1="164.40" y1="156.59" x2="168.90" y2="156.59" stroke="#000" stroke-width="2.6" stroke-linecap="butt"/>
<line x1="164.40" y1="153.43" x2="168.90" y2="153.43" stroke="#000" stroke-width="2.6" stroke-linecap="butt"/>
<line x1="164.40" y1="132.05" x2="168.90" y2="132.05" stroke="#000" stroke-width="2.6" stroke-linecap="butt"/>
<line x1="164.40" y1="121.19" x2="168.90" y2="121.19" stroke="#000" stroke-width="2.6" stroke-linecap="butt"/>
<line x1="164.40" y1="113.49" x2="168.90" y2="113.49" stroke="#000" stroke-width="2.6" stroke-linecap="butt"/>
<line x1="164.40" y1="107.52" x2="168.90" y2="107.52" stroke="#000" stroke-width="2.6" stroke-linecap="butt"/>
<line x1="164.40" y1="102.63" x2="168.90" y2="102.63" stroke="#000" stroke-width="2.6" stroke-linecap="butt"/>
<line x1="164.40" y1="98.51" x2="168.90" y2="98.51" stroke="#000" stroke-width="2.6" stroke-linecap="butt"/>
<line x1="164.40" y1="94.93" x2="168.90" y2="94.93" stroke="#000" stroke-width="2.6" stroke-linecap="butt"/>
<line x1="164.40" y1="91.78" x2="168.90" y2="91.78" stroke="#000" stroke-width="2.6" stroke-linecap="butt"/>
<line x1="164.40" y1="70.40" x2="168.90" y2="70.40" stroke="#000" stroke-width="2.6" stroke-linecap="butt"/>
<line x1="164.40" y1="59.54" x2="168.90" y2="59.54" stroke="#000" stroke-width="2.6" stroke-linecap="butt"/>
<line x1="164.40" y1="51.84" x2="168.90" y2="51.84" stroke="#000" stroke-width="2.6" stroke-linecap="butt"/>
<line x1="164.40" y1="45.86" x2="168.90" y2="45.86" stroke="#000" stroke-width="2.6" stroke-linecap="butt"/>
<line x1="164.40" y1="40.98" x2="168.90" y2="40.98" stroke="#000" stroke-width="2.6" stroke-linecap="butt"/>
<line x1="164.40" y1="36.85" x2="168.90" y2="36.85" stroke="#000" stroke-width="2.6" stroke-linecap="butt"/>
<line x1="164.40" y1="33.28" x2="168.90" y2="33.28" stroke="#000" stroke-width="2.6" stroke-linecap="butt"/>
<line x1="164.40" y1="30.12" x2="168.90" y2="30.12" stroke="#000" stroke-width="2.6" stroke-linecap="butt"/>
<line x1="1145.91" y1="582.00" x2="1145.91" y2="573.00" stroke="#000" stroke-width="2.6" stroke-linecap="butt"/>
<line x1="1269.09" y1="582.00" x2="1269.09" y2="573.00" stroke="#000" stroke-width="2.6" stroke-linecap="butt"/>
<line x1="1392.26" y1="582.00" x2="1392.26" y2="573.00" stroke="#000" stroke-width="2.6" stroke-linecap="butt"/>
<line x1="1515.44" y1="582.00" x2="1515.44" y2="573.00" stroke="#000" stroke-width="2.6" stroke-linecap="butt"/>
<line x1="1638.62" y1="582.00" x2="1638.62" y2="573.00" stroke="#000" stroke-width="2.6" stroke-linecap="butt"/>
<line x1="1084.32" y1="582.00" x2="1084.32" y2="577.50" stroke="#000" stroke-width="2.6" stroke-linecap="butt"/>
<line x1="1207.50" y1="582.00" x2="1207.50" y2="577.50" stroke="#000" stroke-width="2.6" stroke-linecap="butt"/>
<line x1="1330.67" y1="582.00" x2="1330.67" y2="577.50" stroke="#000" stroke-width="2.6" stroke-linecap="butt"/>
<line x1="1453.85" y1="582.00" x2="1453.85" y2="577.50" stroke="#000" stroke-width="2.6" stroke-linecap="butt"/>
<line x1="1577.03" y1="582.00" x2="1577.03" y2="577.50" stroke="#000" stroke-width="2.6" stroke-linecap="butt"/>
<line x1="1700.21" y1="582.00" x2="1700.21" y2="577.50" stroke="#000" stroke-width="2.6" stroke-linecap="butt"/>
<line x1="1072.00" y1="582.00" x2="1081.00" y2="582.00" stroke="#000" stroke-width="2.6" stroke-linecap="butt"/>
<line x1="1072.00" y1="512.66" x2="1081.00" y2="512.66" stroke="#000" stroke-width="2.6" stroke-linecap="butt"/>
<line x1="1072.00" y1="443.32" x2="1081.00" y2="443.32" stroke="#000" stroke-width="2.6" stroke-linecap="butt"/>
<line x1="1072.00" y1="373.99" x2="1081.00" y2="373.99" stroke="#000" stroke-width="2.6" stroke-linecap="butt"/>
<line x1="1072.00" y1="304.65" x2="1081.00" y2="304.65" stroke="#000" stroke-width="2.6" stroke-linecap="butt"/>
<line x1="1072.00" y1="235.31" x2="1081.00" y2="235.31" stroke="#000" stroke-width="2.6" stroke-linecap="butt"/>
<line x1="1072.00" y1="165.97" x2="1081.00" y2="165.97" stroke="#000" stroke-width="2.6" stroke-linecap="butt"/>
<line x1="1072.00" y1="96.64" x2="1081.00" y2="96.64" stroke="#000" stroke-width="2.6" stroke-linecap="butt"/>
<line x1="1072.00" y1="27.30" x2="1081.00" y2="27.30" stroke="#000" stroke-width="2.6" stroke-linecap="butt"/>
<line x1="1072.00" y1="561.13" x2="1076.50" y2="561.13" stroke="#000" stroke-width="2.6" stroke-linecap="butt"/>
<line x1="1072.00" y1="548.92" x2="1076.50" y2="548.92" stroke="#000" stroke-width="2.6" stroke-linecap="butt"/>
<line x1="1072.00" y1="540.25" x2="1076.50" y2="540.25" stroke="#000" stroke-width="2.6" stroke-linecap="butt"/>
<line x1="1072.00" y1="533.54" x2="1076.50" y2="533.54" stroke="#000" stroke-width="2.6" stroke-linecap="butt"/>
<line x1="1072.00" y1="528.04" x2="1076.50" y2="528.04" stroke="#000" stroke-width="2.6" stroke-linecap="butt"/>
<line x1="1072.00" y1="523.40" x2="1076.50" y2="523.40" stroke="#000" stroke-width="2.6" stroke-linecap="butt"/>
<line x1="1072.00" y1="519.38" x2="1076.50" y2="519.38" stroke="#000" stroke-width="2.6" stroke-linecap="butt"/>
<line x1="1072.00" y1="515.84" x2="1076.50" y2="515.84" stroke="#000" stroke-width="2.6" stroke-linecap="butt"/>
<line x1="1072.00" y1="491.79" x2="1076.50" y2="491.79" stroke="#000" stroke-width="2.6" stroke-linecap="butt"/>
<line x1="1072.00" y1="479.58" x2="1076.50" y2="479.58" stroke="#000" stroke-width="2.6" stroke-linecap="butt"/>
<line x1="1072.00" y1="470.92" x2="1076.50" y2="470.92" stroke="#000" stroke-width="2.6" stroke-linecap="butt"/>
<line x1="1072.00" y1="464.20" x2="1076.50" y2="464.20" stroke="#000" stroke-width="2.6" stroke-linecap="butt"/>
<line x1="1072.00" y1="458.71" x2="1076.50" y2="458.71" stroke="#000" stroke-width="2.6" stroke-linecap="butt"/>
<line x1="1072.00" y1="454.07" x2="1076.50" y2="454.07" stroke="#000" stroke-width="2.6" stroke-linecap="butt"/>
<line x1="1072.00" y1="450.04" x2="1076.50" y2="450.04" stroke="#000" stroke-width="2.6" stroke-linecap="butt"/>
<line x1="1072.00" y1="446.50" x2="1076.50" y2="446.50" stroke="#000" stroke-width="2.6" stroke-linecap="butt"/>
<line x1="1072.00" y1="422.45" x2="1076.50" y2="422.45" stroke="#000" stroke-width="2.6" stroke-linecap="butt"/>
<line x1="1072.00" y1="410.24" x2="1076.50" y2="410.24" stroke="#000" stroke-width="2.6" stroke-linecap="butt"/>
<line x1="1072.00" y1="401.58" x2="1076.50" y2="401.58" stroke="#000" stroke-width="2.6" stroke-linecap="butt"/>
<line x1="1072.00" y1="394.86" x2="1076.50" y2="394.86" stroke="#000" stroke-width="2.6" stroke-linecap="butt"/>
<line x1="1072.00" y1="389.37" x2="1076.50" y2="389.37" stroke="#000" stroke-width="2.6" stroke-linecap="butt"/>
<line x1="1072.00" y1="384.73" x2="1076.50" y2="384.73" stroke="#000" stroke-width="2.6" stroke-linecap="butt"/>
<line x1="1072.00" y1="380.71" x2="1076.50" y2="380.71" stroke="#000" stroke-width="2.6" stroke-linecap="butt"/>
<line x1="1072.00" y1="377.16" x2="1076.50" y2="377.16" stroke="#000" stroke-width="2.6" stroke-linecap="butt"/>
<line x1="1072.00" y1="353.11" x2="1076.50" y2="353.11" stroke="#000" stroke-width="2.6" stroke-linecap="butt"/>
<line x1="1072.00" y1="340.91" x2="1076.50" y2="340.91" stroke="#000" stroke-width="2.6" stroke-linecap="butt"/>
<line x1="1072.00" y1="332.24" x2="1076.50" y2="332.24" stroke="#000" stroke-width="2.6" stroke-linecap="butt"/>
<line x1="1072.00" y1="325.52" x2="1076.50" y2="325.52" stroke="#000" stroke-width="2.6" stroke-linecap="butt"/>
<line x1="1072.00" y1="320.03" x2="1076.50" y2="320.03" stroke="#000" stroke-width="2.6" stroke-linecap="butt"/>
<line x1="1072.00" y1="315.39" x2="1076.50" y2="315.39" stroke="#000" stroke-width="2.6" stroke-linecap="butt"/>
<line x1="1072.00" y1="311.37" x2="1076.50" y2="311.37" stroke="#000" stroke-width="2.6" stroke-linecap="butt"/>
<line x1="1072.00" y1="307.82" x2="1076.50" y2="307.82" stroke="#000" stroke-width="2.6" stroke-linecap="butt"/>
<line x1="1072.00" y1="283.78" x2="1076.50" y2="283.78" stroke="#000" stroke-width="2.6" stroke-linecap="butt"/>
<line x1="1072.00" y1="271.57" x2="1076.50" y2="271.57" stroke="#000" stroke-width="2.6" stroke-linecap="butt"/>
<line x1="1072.00" y1="262.90" x2="1076.50" y2="262.90" stroke="#000" stroke-width="2.6" stroke-linecap="butt"/>
<line x1="1072.00" y1="256.19" x2="1076.50" y2="256.19" stroke="#000" stroke-width="2.6" stroke-linecap="butt"/>
<line x1="1072.00" y1="250.69" x2="1076.50" y2="250.69" stroke="#000" stroke-width="2.6" stroke-linecap="butt"/>
<line x1="1072.00" y1="246.05" x2="1076.50" y2="246.05" stroke="#000" stroke-width="2.6" stroke-linecap="butt"/>
<line x1="1072.00" y1="242.03" x2="1076.50" y2="242.03" stroke="#000" stroke-width="2.6" stroke-linecap="butt"/>
<line x1="1072.00" y1="238.49" x2="1076.50" y2="238.49" stroke="#000" stroke-width="2.6" stroke-linecap="butt"/>
<line x1="1072.00" y1="214.44" x2="1076.50" y2="214.44" stroke="#000" stroke-width="2.6" stroke-linecap="butt"/>
<line x1="1072.00" y1="202.23" x2="1076.50" y2="202.23" stroke="#000" stroke-width="2.6" stroke-linecap="butt"/>
<line x1="1072.00" y1="193.57" x2="1076.50" y2="193.57" stroke="#000" stroke-width="2.6" stroke-linecap="butt"/>
<line x1="1072.00" y1="186.85" x2="1076.50" y2="186.85" stroke="#000" stroke-width="2.6" stroke-linecap="butt"/>
<line x1="1072.00" y1="181.36" x2="1076.50" y2="181.36" stroke="#000" stroke-width="2.6" stroke-linecap="butt"/>
<line x1="1072.00" y1="176.72" x2="1076.50" y2="176.72" stroke="#000" stroke-width="2.6" stroke-linecap="butt"/>
<line x1="1072.00" y1="172.69" x2="1076.50" y2="172.69" stroke="#000" stroke-width="2.6" stroke-linecap="butt"/>
<line x1="1072.00" y1="169.15" x2="1076.50" y2="169.15" stroke="#000" stroke-width="2.6" stroke-linecap="butt"/>
<line x1="1072.00" y1="145.10" x2="1076.50" y2="145.10" stroke="#000" stroke-width="2.6" stroke-linecap="butt"/>
<line x1="1072.00" y1="132.89" x2="1076.50" y2="132.89" stroke="#000" stroke-width="2.6" stroke-linecap="butt"/>
<line x1="1072.00" y1="124.23" x2="1076.50" y2="124.23" stroke="#000" stroke-width="2.6" stroke-linecap="butt"/>
<line x1="1072.00" y1="117.51" x2="1076.50" y2="117.51" stroke="#000" stroke-width="2.6" stroke-linecap="butt"/>
<line x1="1072.00" y1="112.02" x2="1076.50" y2="112.02" stroke="#000" stroke-width="2.6" stroke-linecap="butt"/>
<line x1="1072.00" y1="107.38" x2="1076.50" y2="107.38" stroke="#000" stroke-width="2.6" stroke-linecap="butt"/>
<line x1="1072.00" y1="103.36" x2="1076.50" y2="103.36" stroke="#000" stroke-width="2.6" stroke-linecap="butt"/>
<line x1="1072.00" y1="99.81" x2="1076.50" y2="99.81" stroke="#000" stroke-width="2.6" stroke-linecap="butt"/>
<line x1="1072.00" y1="75.76" x2="1076.50" y2="75.76" stroke="#000" stroke-width="2.6" stroke-linecap="butt"/>
<line x1="1072.00" y1="63.56" x2="1076.50" y2="63.56" stroke="#000" stroke-width="2.6" stroke-linecap="butt"/>
<line x1="1072.00" y1="54.89" x2="1076.50" y2="54.89" stroke="#000" stroke-width="2.6" stroke-linecap="butt"/>
<line x1="1072.00" y1="48.17" x2="1076.50" y2="48.17" stroke="#000" stroke-width="2.6" stroke-linecap="butt"/>
<line x1="1072.00" y1="42.68" x2="1076.50" y2="42.68" stroke="#000" stroke-width="2.6" stroke-linecap="butt"/>
<line x1="1072.00" y1="38.04" x2="1076.50" y2="38.04" stroke="#000" stroke-width="2.6" stroke-linecap="butt"/>
<line x1="1072.00" y1="34.02" x2="1076.50" y2="34.02" stroke="#000" stroke-width="2.6" stroke-linecap="butt"/>
<line x1="1072.00" y1="30.47" x2="1076.50" y2="30.47" stroke="#000" stroke-width="2.6" stroke-linecap="butt"/>
<line x1="164.80" y1="1296.30" x2="164.80" y2="1287.30" stroke="#000" stroke-width="2.6" stroke-linecap="butt"/>
<line x1="440.72" y1="1296.30" x2="440.72" y2="1287.30" stroke="#000" stroke-width="2.6" stroke-linecap="butt"/>
<line x1="716.64" y1="1296.30" x2="716.64" y2="1287.30" stroke="#000" stroke-width="2.6" stroke-linecap="butt"/>
<line x1="302.76" y1="1296.30" x2="302.76" y2="1291.80" stroke="#000" stroke-width="2.6" stroke-linecap="butt"/>
<line x1="578.68" y1="1296.30" x2="578.68" y2="1291.80" stroke="#000" stroke-width="2.6" stroke-linecap="butt"/>
<line x1="164.80" y1="1296.30" x2="173.80" y2="1296.30" stroke="#000" stroke-width="2.6" stroke-linecap="butt"/>
<line x1="854.60" y1="1296.30" x2="845.60" y2="1296.30" stroke="#000" stroke-width="2.6" stroke-linecap="butt"/>
<line x1="164.80" y1="1177.41" x2="173.80" y2="1177.41" stroke="#000" stroke-width="2.6" stroke-linecap="butt"/>
<line x1="854.60" y1="1177.41" x2="845.60" y2="1177.41" stroke="#000" stroke-width="2.6" stroke-linecap="butt"/>
<line x1="164.80" y1="1058.53" x2="173.80" y2="1058.53" stroke="#000" stroke-width="2.6" stroke-linecap="butt"/>
<line x1="854.60" y1="1058.53" x2="845.60" y2="1058.53" stroke="#000" stroke-width="2.6" stroke-linecap="butt"/>
<line x1="164.80" y1="939.64" x2="173.80" y2="939.64" stroke="#000" stroke-width="2.6" stroke-linecap="butt"/>
<line x1="854.60" y1="939.64" x2="845.60" y2="939.64" stroke="#000" stroke-width="2.6" stroke-linecap="butt"/>
<line x1="164.80" y1="820.76" x2="173.80" y2="820.76" stroke="#000" stroke-width="2.6" stroke-linecap="butt"/>
<line x1="854.60" y1="820.76" x2="845.60" y2="820.76" stroke="#000" stroke-width="2.6" stroke-linecap="butt"/>
<line x1="164.80" y1="1236.86" x2="169.30" y2="1236.86" stroke="#000" stroke-width="2.6" stroke-linecap="butt"/>
<line x1="854.60" y1="1236.86" x2="850.10" y2="1236.86" stroke="#000" stroke-width="2.6" stroke-linecap="butt"/>
<line x1="164.80" y1="1117.97" x2="169.30" y2="1117.97" stroke="#000" stroke-width="2.6" stroke-linecap="butt"/>
<line x1="854.60" y1="1117.97" x2="850.10" y2="1117.97" stroke="#000" stroke-width="2.6" stroke-linecap="butt"/>
<line x1="164.80" y1="999.09" x2="169.30" y2="999.09" stroke="#000" stroke-width="2.6" stroke-linecap="butt"/>
<line x1="854.60" y1="999.09" x2="850.10" y2="999.09" stroke="#000" stroke-width="2.6" stroke-linecap="butt"/>
<line x1="164.80" y1="880.20" x2="169.30" y2="880.20" stroke="#000" stroke-width="2.6" stroke-linecap="butt"/>
<line x1="854.60" y1="880.20" x2="850.10" y2="880.20" stroke="#000" stroke-width="2.6" stroke-linecap="butt"/>
<line x1="164.80" y1="761.31" x2="169.30" y2="761.31" stroke="#000" stroke-width="2.6" stroke-linecap="butt"/>
<line x1="854.60" y1="761.31" x2="850.10" y2="761.31" stroke="#000" stroke-width="2.6" stroke-linecap="butt"/>
<line x1="1269.50" y1="1292.20" x2="1269.50" y2="1283.20" stroke="#000" stroke-width="2.6" stroke-linecap="butt"/>
<line x1="1515.50" y1="1292.20" x2="1515.50" y2="1283.20" stroke="#000" stroke-width="2.6" stroke-linecap="butt"/>
<line x1="1146.50" y1="1292.20" x2="1146.50" y2="1287.70" stroke="#000" stroke-width="2.6" stroke-linecap="butt"/>
<line x1="1392.50" y1="1292.20" x2="1392.50" y2="1287.70" stroke="#000" stroke-width="2.6" stroke-linecap="butt"/>
<line x1="1638.50" y1="1292.20" x2="1638.50" y2="1287.70" stroke="#000" stroke-width="2.6" stroke-linecap="butt"/>
<line x1="1072.70" y1="1292.20" x2="1081.70" y2="1292.20" stroke="#000" stroke-width="2.6" stroke-linecap="butt"/>
<line x1="1761.50" y1="1292.20" x2="1752.50" y2="1292.20" stroke="#000" stroke-width="2.6" stroke-linecap="butt"/>
<line x1="1072.70" y1="1173.53" x2="1081.70" y2="1173.53" stroke="#000" stroke-width="2.6" stroke-linecap="butt"/>
<line x1="1761.50" y1="1173.53" x2="1752.50" y2="1173.53" stroke="#000" stroke-width="2.6" stroke-linecap="butt"/>
<line x1="1072.70" y1="1054.86" x2="1081.70" y2="1054.86" stroke="#000" stroke-width="2.6" stroke-linecap="butt"/>
<line x1="1761.50" y1="1054.86" x2="1752.50" y2="1054.86" stroke="#000" stroke-width="2.6" stroke-linecap="butt"/>
<line x1="1072.70" y1="936.19" x2="1081.70" y2="936.19" stroke="#000" stroke-width="2.6" stroke-linecap="butt"/>
<line x1="1761.50" y1="936.19" x2="1752.50" y2="936.19" stroke="#000" stroke-width="2.6" stroke-linecap="butt"/>
<line x1="1072.70" y1="817.51" x2="1081.70" y2="817.51" stroke="#000" stroke-width="2.6" stroke-linecap="butt"/>
<line x1="1761.50" y1="817.51" x2="1752.50" y2="817.51" stroke="#000" stroke-width="2.6" stroke-linecap="butt"/>
<line x1="1072.70" y1="1232.86" x2="1077.20" y2="1232.86" stroke="#000" stroke-width="2.6" stroke-linecap="butt"/>
<line x1="1761.50" y1="1232.86" x2="1757.00" y2="1232.86" stroke="#000" stroke-width="2.6" stroke-linecap="butt"/>
<line x1="1072.70" y1="1114.19" x2="1077.20" y2="1114.19" stroke="#000" stroke-width="2.6" stroke-linecap="butt"/>
<line x1="1761.50" y1="1114.19" x2="1757.00" y2="1114.19" stroke="#000" stroke-width="2.6" stroke-linecap="butt"/>
<line x1="1072.70" y1="995.52" x2="1077.20" y2="995.52" stroke="#000" stroke-width="2.6" stroke-linecap="butt"/>
<line x1="1761.50" y1="995.52" x2="1757.00" y2="995.52" stroke="#000" stroke-width="2.6" stroke-linecap="butt"/>
<line x1="1072.70" y1="876.85" x2="1077.20" y2="876.85" stroke="#000" stroke-width="2.6" stroke-linecap="butt"/>
<line x1="1761.50" y1="876.85" x2="1757.00" y2="876.85" stroke="#000" stroke-width="2.6" stroke-linecap="butt"/>
<line x1="1072.70" y1="758.18" x2="1077.20" y2="758.18" stroke="#000" stroke-width="2.6" stroke-linecap="butt"/>
<line x1="1761.50" y1="758.18" x2="1757.00" y2="758.18" stroke="#000" stroke-width="2.6" stroke-linecap="butt"/>
<rect x="164.40" y="27.30" width="689.90" height="554.90" fill="none" stroke="#000" stroke-width="3.0"/>
<rect x="1072.00" y="27.30" width="689.80" height="554.70" fill="none" stroke="#000" stroke-width="3.0"/>
<rect x="164.80" y="741.50" width="689.80" height="554.80" fill="none" stroke="#000" stroke-width="3.0"/>
<rect x="1072.70" y="738.40" width="688.80" height="553.80" fill="none" stroke="#000" stroke-width="3.0"/>
<text x="214.14" y="95.40" font-size="42.22" font-weight="700" font-style="italic" textLength="25.80" lengthAdjust="spacingAndGlyphs">L</text>
<text x="238.66" y="106.50" font-size="28.63" font-weight="700" textLength="23.31" lengthAdjust="spacingAndGlyphs">G</text>
<text x="262.24" y="95.40" font-size="42.43" font-weight="700" textLength="61.54" lengthAdjust="spacingAndGlyphs">= 5</text>
<text x="335.62" y="95.40" font-size="42.43" font-weight="400" textLength="21.89" lengthAdjust="spacingAndGlyphs">µ</text>
<text x="358.33" y="95.40" font-size="42.43" font-weight="700" textLength="37.98" lengthAdjust="spacingAndGlyphs">m</text>
<text x="1105.04" y="129.70" font-size="42.22" font-weight="700" font-style="italic" textLength="25.80" lengthAdjust="spacingAndGlyphs">L</text>
<text x="1129.56" y="140.80" font-size="28.63" font-weight="700" textLength="23.31" lengthAdjust="spacingAndGlyphs">G</text>
<text x="1153.14" y="129.70" font-size="42.43" font-weight="700" textLength="61.54" lengthAdjust="spacingAndGlyphs">= 5</text>
<text x="1226.53" y="129.70" font-size="42.43" font-weight="400" textLength="21.89" lengthAdjust="spacingAndGlyphs">µ</text>
<text x="1249.23" y="129.70" font-size="42.43" font-weight="700" textLength="37.98" lengthAdjust="spacingAndGlyphs">m</text>
<text x="560.00" y="80.00" font-size="43.89" font-weight="700" textLength="26.51" lengthAdjust="spacingAndGlyphs">V</text>
<text x="588.25" y="93.30" font-size="30.3" font-weight="700" textLength="20.22" lengthAdjust="spacingAndGlyphs">D</text>
<text x="621.97" y="80.00" font-size="43.89" font-weight="700" textLength="100.32" lengthAdjust="spacingAndGlyphs">= 2 V</text>
<text x="1322.60" y="72.50" font-size="43.89" font-weight="700" textLength="26.51" lengthAdjust="spacingAndGlyphs">V</text>
<text x="1350.85" y="85.80" font-size="30.3" font-weight="700" textLength="20.22" lengthAdjust="spacingAndGlyphs">D</text>
<text x="1384.57" y="72.50" font-size="43.89" font-weight="700" textLength="100.32" lengthAdjust="spacingAndGlyphs">= 2 V</text>
<text x="595.20" y="326.20" font-size="43.89" font-weight="700" textLength="26.11" lengthAdjust="spacingAndGlyphs">V</text>
<text x="623.84" y="340.70" font-size="30.3" font-weight="700" textLength="19.18" lengthAdjust="spacingAndGlyphs">D</text>
<text x="656.65" y="326.20" font-size="43.89" font-weight="700" textLength="164.34" lengthAdjust="spacingAndGlyphs">= 50 mV</text>
<text x="1518.00" y="280.00" font-size="43.89" font-weight="700" textLength="26.31" lengthAdjust="spacingAndGlyphs">V</text>
<text x="1547.10" y="292.00" font-size="29.78" font-weight="700" textLength="18.49" lengthAdjust="spacingAndGlyphs">D</text>
<text x="1579.95" y="280.00" font-size="43.89" font-weight="700" textLength="164.54" lengthAdjust="spacingAndGlyphs">= 50 mV</text>
<text x="207.75" y="204.90" font-size="44.93" font-weight="700" textLength="219.97" lengthAdjust="spacingAndGlyphs">HT-PEALD</text>
<text x="208.12" y="273.40" font-size="52.77" font-weight="700" textLength="110.76" lengthAdjust="spacingAndGlyphs">MoS</text>
<text x="318.36" y="285.40" font-size="37.62" font-weight="400" textLength="19.46" lengthAdjust="spacingAndGlyphs">2</text>
<text x="352.72" y="273.40" font-size="52.77" font-weight="700" textLength="58.94" lengthAdjust="spacingAndGlyphs">2L</text>
<text x="202.77" y="369.50" font-size="35.22" font-weight="400" textLength="39.81" lengthAdjust="spacingAndGlyphs">(a)</text>
<text x="1123.91" y="227.90" font-size="33.86" font-weight="400" textLength="41.34" lengthAdjust="spacingAndGlyphs">(b)</text>
<text x="202.88" y="1247.80" font-size="34.28" font-weight="400" textLength="37.91" lengthAdjust="spacingAndGlyphs">(c)</text>
<text x="1123.38" y="1247.60" font-size="33.75" font-weight="400" textLength="39.70" lengthAdjust="spacingAndGlyphs">(d)</text>
<text x="518.86" y="473.50" font-size="36.89" font-weight="700" textLength="191.69" lengthAdjust="spacingAndGlyphs">before ZrO</text>
<text x="713.42" y="485.00" font-size="26.12" font-weight="700" textLength="13.90" lengthAdjust="spacingAndGlyphs">2</text>
<text x="739.44" y="473.50" font-size="36.89" font-weight="700" textLength="99.37" lengthAdjust="spacingAndGlyphs">depo.</text>
<text x="520.62" y="529.00" font-size="36.89" font-weight="700" textLength="156.11" lengthAdjust="spacingAndGlyphs">after ZrO</text>
<text x="679.23" y="540.50" font-size="26.12" font-weight="700" textLength="13.79" lengthAdjust="spacingAndGlyphs">2</text>
<text x="704.11" y="529.00" font-size="36.89" font-weight="700" textLength="101.75" lengthAdjust="spacingAndGlyphs">depo.</text>
<text x="1414.16" y="484.40" font-size="36.89" font-weight="700" textLength="191.69" lengthAdjust="spacingAndGlyphs">before ZrO</text>
<text x="1608.72" y="495.90" font-size="26.12" font-weight="700" textLength="13.90" lengthAdjust="spacingAndGlyphs">2</text>
<text x="1634.74" y="484.40" font-size="36.89" font-weight="700" textLength="99.37" lengthAdjust="spacingAndGlyphs">depo.</text>
<text x="1414.42" y="541.80" font-size="36.89" font-weight="700" textLength="156.11" lengthAdjust="spacingAndGlyphs">after ZrO</text>
<text x="1573.02" y="553.30" font-size="26.12" font-weight="700" textLength="13.79" lengthAdjust="spacingAndGlyphs">2</text>
<text x="1597.91" y="541.80" font-size="36.89" font-weight="700" textLength="101.75" lengthAdjust="spacingAndGlyphs">depo.</text>
<text x="1497.77" y="377.00" font-size="43.89" font-weight="700" textLength="157.81" lengthAdjust="spacingAndGlyphs">LT-ALD</text>
<text x="1152.38" y="1105.90" font-size="43.89" font-weight="700" textLength="156.88" lengthAdjust="spacingAndGlyphs">LT-ALD</text>
<text x="1143.45" y="1163.40" font-size="53.29" font-weight="700" textLength="109.61" lengthAdjust="spacingAndGlyphs">MoS</text>
<text x="1251.41" y="1174.30" font-size="37.62" font-weight="400" textLength="21.24" lengthAdjust="spacingAndGlyphs">2</text>
<text x="1286.58" y="1163.40" font-size="53.29" font-weight="700" textLength="60.10" lengthAdjust="spacingAndGlyphs">1L</text>
<text x="1485.85" y="439.60" font-size="53.29" font-weight="700" textLength="109.61" lengthAdjust="spacingAndGlyphs">MoS</text>
<text x="1593.81" y="450.50" font-size="37.62" font-weight="400" textLength="21.24" lengthAdjust="spacingAndGlyphs">2</text>
<text x="1628.98" y="439.60" font-size="53.29" font-weight="700" textLength="60.10" lengthAdjust="spacingAndGlyphs">1L</text>
<text x="210.95" y="820.30" font-size="40.75" font-weight="700" font-style="italic" textLength="25.24" lengthAdjust="spacingAndGlyphs">L</text>
<text x="237.61" y="833.50" font-size="27.38" font-weight="700" textLength="22.18" lengthAdjust="spacingAndGlyphs">G</text>
<text x="272.70" y="820.30" font-size="42.43" font-weight="700" textLength="24.24" lengthAdjust="spacingAndGlyphs">=</text>
<text x="310.59" y="820.30" font-size="42.43" font-weight="700" textLength="21.79" lengthAdjust="spacingAndGlyphs">5</text>
<text x="344.93" y="820.30" font-size="42.43" font-weight="400" textLength="21.89" lengthAdjust="spacingAndGlyphs">µ</text>
<text x="367.86" y="820.30" font-size="42.43" font-weight="700" textLength="37.63" lengthAdjust="spacingAndGlyphs">m</text>
<text x="1119.05" y="818.60" font-size="40.75" font-weight="700" font-style="italic" textLength="25.24" lengthAdjust="spacingAndGlyphs">L</text>
<text x="1145.71" y="831.80" font-size="27.38" font-weight="700" textLength="22.18" lengthAdjust="spacingAndGlyphs">G</text>
<text x="1180.80" y="818.60" font-size="42.43" font-weight="700" textLength="24.24" lengthAdjust="spacingAndGlyphs">=</text>
<text x="1218.69" y="818.60" font-size="42.43" font-weight="700" textLength="21.79" lengthAdjust="spacingAndGlyphs">5</text>
<text x="1253.03" y="818.60" font-size="42.43" font-weight="400" textLength="21.89" lengthAdjust="spacingAndGlyphs">µ</text>
<text x="1275.96" y="818.60" font-size="42.43" font-weight="700" textLength="37.63" lengthAdjust="spacingAndGlyphs">m</text>
<text x="632.10" y="815.10" font-size="43.89" font-weight="700" textLength="26.21" lengthAdjust="spacingAndGlyphs">V</text>
<text x="661.11" y="829.40" font-size="30.3" font-weight="700" textLength="18.37" lengthAdjust="spacingAndGlyphs">D</text>
<text x="694.66" y="815.10" font-size="43.89" font-weight="700" textLength="101.43" lengthAdjust="spacingAndGlyphs">= 2 V</text>
<text x="1540.00" y="812.20" font-size="43.89" font-weight="700" textLength="26.21" lengthAdjust="spacingAndGlyphs">V</text>
<text x="1569.01" y="826.50" font-size="30.3" font-weight="700" textLength="18.37" lengthAdjust="spacingAndGlyphs">D</text>
<text x="1602.56" y="812.20" font-size="43.89" font-weight="700" textLength="101.43" lengthAdjust="spacingAndGlyphs">= 2 V</text>
<text x="295.39" y="910.00" font-size="42.64" font-weight="700" textLength="221.92" lengthAdjust="spacingAndGlyphs">before ZrO</text>
<text x="519.43" y="922.50" font-size="29.78" font-weight="700" textLength="15.46" lengthAdjust="spacingAndGlyphs">2</text>
<text x="546.62" y="910.00" font-size="42.64" font-weight="700" textLength="118.00" lengthAdjust="spacingAndGlyphs">depo.</text>
<text x="297.43" y="972.50" font-size="42.64" font-weight="700" textLength="182.38" lengthAdjust="spacingAndGlyphs">after ZrO</text>
<text x="480.53" y="985.00" font-size="29.78" font-weight="700" textLength="15.46" lengthAdjust="spacingAndGlyphs">2</text>
<text x="509.25" y="972.50" font-size="42.64" font-weight="700" textLength="115.00" lengthAdjust="spacingAndGlyphs">depo.</text>
<text x="1203.09" y="905.40" font-size="42.64" font-weight="700" textLength="221.92" lengthAdjust="spacingAndGlyphs">before ZrO</text>
<text x="1427.13" y="917.90" font-size="29.78" font-weight="700" textLength="15.46" lengthAdjust="spacingAndGlyphs">2</text>
<text x="1454.32" y="905.40" font-size="42.64" font-weight="700" textLength="118.00" lengthAdjust="spacingAndGlyphs">depo.</text>
<text x="1205.13" y="969.70" font-size="42.64" font-weight="700" textLength="182.38" lengthAdjust="spacingAndGlyphs">after ZrO</text>
<text x="1388.23" y="982.20" font-size="29.78" font-weight="700" textLength="15.46" lengthAdjust="spacingAndGlyphs">2</text>
<text x="1416.95" y="969.70" font-size="42.64" font-weight="700" textLength="115.00" lengthAdjust="spacingAndGlyphs">depo.</text>
<text x="253.19" y="1045.80" font-size="53.82" font-weight="700" textLength="108.57" lengthAdjust="spacingAndGlyphs">MoS</text>
<text x="362.46" y="1055.50" font-size="37.62" font-weight="400" textLength="20.64" lengthAdjust="spacingAndGlyphs">2</text>
<text x="396.26" y="1045.80" font-size="53.82" font-weight="700" textLength="61.34" lengthAdjust="spacingAndGlyphs">2L</text>
<text x="244.04" y="1108.40" font-size="43.47" font-weight="700" textLength="220.89" lengthAdjust="spacingAndGlyphs">HT-PEALD</text>
<text x="421.00" y="681.00" font-size="43.89" font-weight="700" textLength="26.11" lengthAdjust="spacingAndGlyphs">V</text>
<text x="450.11" y="695.50" font-size="30.3" font-weight="700" textLength="22.06" lengthAdjust="spacingAndGlyphs">G</text>
<text x="472.91" y="681.00" font-size="43.89" font-weight="700" textLength="41.39" lengthAdjust="spacingAndGlyphs">-V</text>
<text x="517.60" y="696.00" font-size="30.3" font-weight="700" textLength="25.08" lengthAdjust="spacingAndGlyphs">th</text>
<text x="555.28" y="681.00" font-size="43.89" font-weight="700" textLength="57.37" lengthAdjust="spacingAndGlyphs">(V)</text>
<text x="1345.80" y="674.90" font-size="43.89" font-weight="700" textLength="26.11" lengthAdjust="spacingAndGlyphs">V</text>
<text x="1374.91" y="689.40" font-size="30.3" font-weight="700" textLength="22.06" lengthAdjust="spacingAndGlyphs">G</text>
<text x="1397.71" y="674.90" font-size="43.89" font-weight="700" textLength="41.39" lengthAdjust="spacingAndGlyphs">-V</text>
<text x="1442.40" y="689.90" font-size="30.3" font-weight="700" textLength="25.08" lengthAdjust="spacingAndGlyphs">th</text>
<text x="1480.08" y="674.90" font-size="43.89" font-weight="700" textLength="57.37" lengthAdjust="spacingAndGlyphs">(V)</text>
<text x="418.30" y="1382.80" font-size="43.89" font-weight="700" textLength="26.51" lengthAdjust="spacingAndGlyphs">V</text>
<text x="447.41" y="1396.50" font-size="30.3" font-weight="700" textLength="22.06" lengthAdjust="spacingAndGlyphs">G</text>
<text x="470.42" y="1382.80" font-size="43.89" font-weight="700" textLength="41.08" lengthAdjust="spacingAndGlyphs">-V</text>
<text x="514.40" y="1396.70" font-size="30.3" font-weight="700" textLength="25.82" lengthAdjust="spacingAndGlyphs">th</text>
<text x="539.64" y="1382.80" font-size="43.89" font-weight="700" textLength="58.65" lengthAdjust="spacingAndGlyphs">(V)</text>
<text x="1327.30" y="1379.00" font-size="43.89" font-weight="700" textLength="26.51" lengthAdjust="spacingAndGlyphs">V</text>
<text x="1356.41" y="1392.70" font-size="30.3" font-weight="700" textLength="22.06" lengthAdjust="spacingAndGlyphs">G</text>
<text x="1379.42" y="1379.00" font-size="43.89" font-weight="700" textLength="41.08" lengthAdjust="spacingAndGlyphs">-V</text>
<text x="1423.40" y="1392.90" font-size="30.3" font-weight="700" textLength="25.82" lengthAdjust="spacingAndGlyphs">th</text>
<text x="1448.64" y="1379.00" font-size="43.89" font-weight="700" textLength="58.65" lengthAdjust="spacingAndGlyphs">(V)</text>
<g transform="rotate(-90)"><text x="-379.34" y="46.50" font-size="45.46" font-weight="700" font-style="italic" textLength="13.14" lengthAdjust="spacingAndGlyphs">I</text></g>
<g transform="rotate(-90)"><text x="-367.10" y="60.40" font-size="27.69" font-weight="700" textLength="20.80" lengthAdjust="spacingAndGlyphs">D</text></g>
<g transform="rotate(-90)"><text x="-334.69" y="46.50" font-size="45.46" font-weight="700" textLength="11.33" lengthAdjust="spacingAndGlyphs">(</text></g>
<g transform="rotate(-90)"><text x="-320.45" y="46.50" font-size="45.46" font-weight="400" textLength="20.74" lengthAdjust="spacingAndGlyphs">µ</text></g>
<g transform="rotate(-90)"><text x="-300.92" y="46.50" font-size="45.46" font-weight="700" textLength="46.06" lengthAdjust="spacingAndGlyphs">A/</text></g>
<g transform="rotate(-90)"><text x="-253.96" y="46.50" font-size="45.46" font-weight="400" textLength="21.78" lengthAdjust="spacingAndGlyphs">µ</text></g>
<g transform="rotate(-90)"><text x="-235.58" y="46.50" font-size="45.46" font-weight="700" textLength="56.24" lengthAdjust="spacingAndGlyphs">m)</text></g>
<g transform="rotate(-90)"><text x="-379.34" y="955.00" font-size="45.46" font-weight="700" font-style="italic" textLength="13.14" lengthAdjust="spacingAndGlyphs">I</text></g>
<g transform="rotate(-90)"><text x="-367.10" y="968.90" font-size="27.69" font-weight="700" textLength="20.80" lengthAdjust="spacingAndGlyphs">D</text></g>
<g transform="rotate(-90)"><text x="-334.69" y="955.00" font-size="45.46" font-weight="700" textLength="11.33" lengthAdjust="spacingAndGlyphs">(</text></g>
<g transform="rotate(-90)"><text x="-320.45" y="955.00" font-size="45.46" font-weight="400" textLength="20.74" lengthAdjust="spacingAndGlyphs">µ</text></g>
<g transform="rotate(-90)"><text x="-300.92" y="955.00" font-size="45.46" font-weight="700" textLength="46.06" lengthAdjust="spacingAndGlyphs">A/</text></g>
<g transform="rotate(-90)"><text x="-253.96" y="955.00" font-size="45.46" font-weight="400" textLength="21.78" lengthAdjust="spacingAndGlyphs">µ</text></g>
<g transform="rotate(-90)"><text x="-235.58" y="955.00" font-size="45.46" font-weight="700" textLength="56.24" lengthAdjust="spacingAndGlyphs">m)</text></g>
<g transform="rotate(-90)"><text x="-1142.36" y="34.00" font-size="43.37" font-weight="700" textLength="33.83" lengthAdjust="spacingAndGlyphs">G</text></g>
<g transform="rotate(-90)"><text x="-1110.66" y="47.30" font-size="30.83" font-weight="700" textLength="26.48" lengthAdjust="spacingAndGlyphs">m</text></g>
<g transform="rotate(-90)"><text x="-1070.00" y="34.00" font-size="43.37" font-weight="700" textLength="10.66" lengthAdjust="spacingAndGlyphs">(</text></g>
<g transform="rotate(-90)"><text x="-1057.58" y="34.00" font-size="43.37" font-weight="400" textLength="20.05" lengthAdjust="spacingAndGlyphs">µ</text></g>
<g transform="rotate(-90)"><text x="-1036.05" y="34.00" font-size="43.37" font-weight="700" textLength="45.18" lengthAdjust="spacingAndGlyphs">S/</text></g>
<g transform="rotate(-90)"><text x="-990.51" y="34.00" font-size="43.37" font-weight="400" textLength="22.24" lengthAdjust="spacingAndGlyphs">µ</text></g>
<g transform="rotate(-90)"><text x="-969.83" y="34.00" font-size="43.37" font-weight="700" textLength="53.30" lengthAdjust="spacingAndGlyphs">m)</text></g>
<g transform="rotate(-90)"><text x="-1139.86" y="941.80" font-size="43.37" font-weight="700" textLength="33.83" lengthAdjust="spacingAndGlyphs">G</text></g>
<g transform="rotate(-90)"><text x="-1108.16" y="955.10" font-size="30.83" font-weight="700" textLength="26.48" lengthAdjust="spacingAndGlyphs">m</text></g>
<g transform="rotate(-90)"><text x="-1067.50" y="941.80" font-size="43.37" font-weight="700" textLength="10.66" lengthAdjust="spacingAndGlyphs">(</text></g>
<g transform="rotate(-90)"><text x="-1055.08" y="941.80" font-size="43.37" font-weight="400" textLength="20.05" lengthAdjust="spacingAndGlyphs">µ</text></g>
<g transform="rotate(-90)"><text x="-1033.55" y="941.80" font-size="43.37" font-weight="700" textLength="45.18" lengthAdjust="spacingAndGlyphs">S/</text></g>
<g transform="rotate(-90)"><text x="-988.01" y="941.80" font-size="43.37" font-weight="400" textLength="22.24" lengthAdjust="spacingAndGlyphs">µ</text></g>
<g transform="rotate(-90)"><text x="-967.33" y="941.80" font-size="43.37" font-weight="700" textLength="53.30" lengthAdjust="spacingAndGlyphs">m)</text></g>
<text x="84.64" y="44.50" font-size="43.37" font-weight="700">10</text>
<text x="132.88" y="23.50" font-size="29.78" font-weight="700">1</text>
<text x="85.11" y="106.16" font-size="43.37" font-weight="700">10</text>
<text x="133.34" y="85.16" font-size="29.78" font-weight="700">0</text>
<text x="74.72" y="167.81" font-size="43.37" font-weight="700">10</text>
<text x="122.96" y="146.81" font-size="29.78" font-weight="700">-1</text>
<text x="74.72" y="229.47" font-size="43.37" font-weight="700">10</text>
<text x="122.96" y="208.47" font-size="29.78" font-weight="700">-2</text>
<text x="74.72" y="291.12" font-size="43.37" font-weight="700">10</text>
<text x="122.96" y="270.12" font-size="29.78" font-weight="700">-3</text>
<text x="73.79" y="352.78" font-size="43.37" font-weight="700">10</text>
<text x="122.03" y="331.78" font-size="29.78" font-weight="700">-4</text>
<text x="74.72" y="414.43" font-size="43.37" font-weight="700">10</text>
<text x="122.96" y="393.43" font-size="29.78" font-weight="700">-5</text>
<text x="74.72" y="476.09" font-size="43.37" font-weight="700">10</text>
<text x="122.96" y="455.09" font-size="29.78" font-weight="700">-6</text>
<text x="75.19" y="537.74" font-size="43.37" font-weight="700">10</text>
<text x="123.43" y="516.74" font-size="29.78" font-weight="700">-7</text>
<text x="74.72" y="599.40" font-size="43.37" font-weight="700">10</text>
<text x="122.96" y="578.40" font-size="29.78" font-weight="700">-8</text>
<text x="991.44" y="43.90" font-size="43.37" font-weight="700">10</text>
<text x="1039.68" y="22.90" font-size="29.78" font-weight="700">1</text>
<text x="991.91" y="113.24" font-size="43.37" font-weight="700">10</text>
<text x="1040.14" y="92.24" font-size="29.78" font-weight="700">0</text>
<text x="981.52" y="182.57" font-size="43.37" font-weight="700">10</text>
<text x="1029.76" y="161.57" font-size="29.78" font-weight="700">-1</text>
<text x="981.52" y="251.91" font-size="43.37" font-weight="700">10</text>
<text x="1029.76" y="230.91" font-size="29.78" font-weight="700">-2</text>
<text x="981.52" y="321.25" font-size="43.37" font-weight="700">10</text>
<text x="1029.76" y="300.25" font-size="29.78" font-weight="700">-3</text>
<text x="980.59" y="390.59" font-size="43.37" font-weight="700">10</text>
<text x="1028.83" y="369.59" font-size="29.78" font-weight="700">-4</text>
<text x="981.52" y="459.93" font-size="43.37" font-weight="700">10</text>
<text x="1029.76" y="438.93" font-size="29.78" font-weight="700">-5</text>
<text x="981.52" y="529.26" font-size="43.37" font-weight="700">10</text>
<text x="1029.76" y="508.26" font-size="29.78" font-weight="700">-6</text>
<text x="981.99" y="598.60" font-size="43.37" font-weight="700">10</text>
<text x="1030.23" y="577.60" font-size="29.78" font-weight="700">-7</text>
<text x="124.49" y="1309.60" font-size="43.89" font-weight="700">0</text>
<text x="65.88" y="1190.71" font-size="43.89" font-weight="700">0.03</text>
<text x="65.88" y="1071.83" font-size="43.89" font-weight="700">0.06</text>
<text x="65.88" y="952.94" font-size="43.89" font-weight="700">0.09</text>
<text x="65.88" y="834.06" font-size="43.89" font-weight="700">0.12</text>
<text x="1032.19" y="1305.80" font-size="43.89" font-weight="700">0</text>
<text x="973.58" y="1187.13" font-size="43.89" font-weight="700">0.03</text>
<text x="973.58" y="1068.46" font-size="43.89" font-weight="700">0.06</text>
<text x="973.58" y="949.79" font-size="43.89" font-weight="700">0.09</text>
<text x="973.58" y="831.11" font-size="43.89" font-weight="700">0.12</text>
<text x="133.26" y="629.20" font-size="43.37" font-weight="700">-20</text>
<text x="286.57" y="629.20" font-size="43.37" font-weight="700">-10</text>
<text x="459.16" y="629.20" font-size="43.37" font-weight="700">0</text>
<text x="599.74" y="629.20" font-size="43.37" font-weight="700">10</text>
<text x="753.73" y="629.20" font-size="43.37" font-weight="700">20</text>
<text x="1114.43" y="629.80" font-size="43.37" font-weight="700">-25</text>
<text x="1257.23" y="629.80" font-size="43.37" font-weight="700">0</text>
<text x="1368.01" y="629.80" font-size="43.37" font-weight="700">25</text>
<text x="1491.86" y="629.80" font-size="43.37" font-weight="700">50</text>
<text x="1614.36" y="629.80" font-size="43.37" font-weight="700">75</text>
<text x="1725.14" y="629.80" font-size="43.37" font-weight="700">100</text>
<text x="132.36" y="1343.00" font-size="43.37" font-weight="700">-20</text>
<text x="427.56" y="1343.00" font-size="43.37" font-weight="700">0</text>
<text x="691.42" y="1343.00" font-size="43.37" font-weight="700">20</text>
<text x="1256.84" y="1340.00" font-size="43.37" font-weight="700">0</text>
<text x="1491.12" y="1340.00" font-size="43.37" font-weight="700">50</text>
<text x="1724.04" y="1340.00" font-size="43.37" font-weight="700">100</text>
</g></svg></body></html>
